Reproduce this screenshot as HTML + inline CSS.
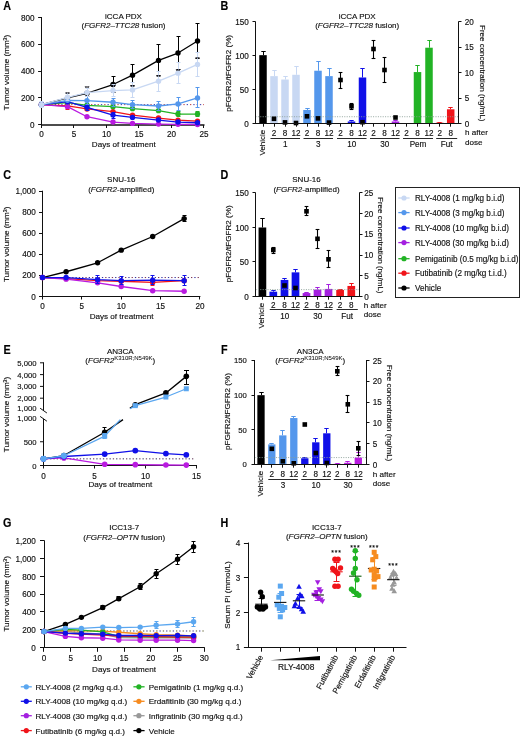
<!DOCTYPE html>
<html lang="en"><head><meta charset="utf-8"><title>Figure</title>
<style>
html,body{margin:0;padding:0;background:#fff;}
body{width:520px;height:736px;overflow:hidden;}
svg{display:block;}
svg text{font-family:"Liberation Sans",Arial,Helvetica,sans-serif;stroke:#111;stroke-width:0.15px;}
</style></head><body>
<svg width="520" height="736" viewBox="0 0 520 736">
<rect x="0" y="0" width="520" height="736" fill="#ffffff"/>
<text transform="translate(3.30,9.80) scale(0.9,1)" font-size="12.0" font-weight="bold" fill="#000">A</text>
<text x="123.50" y="18.90" font-size="8.0" text-anchor="middle" fill="#111" >iCCA PDX</text>
<text x="123.50" y="27.70" font-size="8.0" text-anchor="middle" fill="#111" >(<tspan font-style="italic">FGFR2–TTC28</tspan> fusion)</text>
<line x1="41.50" y1="17.00" x2="41.50" y2="125.50" stroke="#111" stroke-width="1" />
<line x1="38.10" y1="124.50" x2="41.50" y2="124.50" stroke="#111" stroke-width="1" />
<text x="34.60" y="127.75" font-size="8.15" text-anchor="end" fill="#111" >0</text>
<line x1="38.10" y1="97.50" x2="41.50" y2="97.50" stroke="#111" stroke-width="1" />
<text x="34.60" y="100.94" font-size="8.15" text-anchor="end" fill="#111" >200</text>
<line x1="38.10" y1="71.50" x2="41.50" y2="71.50" stroke="#111" stroke-width="1" />
<text x="34.60" y="74.13" font-size="8.15" text-anchor="end" fill="#111" >400</text>
<line x1="38.10" y1="44.50" x2="41.50" y2="44.50" stroke="#111" stroke-width="1" />
<text x="34.60" y="47.31" font-size="8.15" text-anchor="end" fill="#111" >600</text>
<line x1="38.10" y1="17.50" x2="41.50" y2="17.50" stroke="#111" stroke-width="1" />
<text x="34.60" y="20.50" font-size="8.15" text-anchor="end" fill="#111" >800</text>
<line x1="41.00" y1="125.00" x2="204.50" y2="125.00" stroke="#111" stroke-width="1.6" />
<line x1="41.50" y1="125.00" x2="41.50" y2="128.00" stroke="#111" stroke-width="1" />
<text x="41.50" y="137.10" font-size="8.15" text-anchor="middle" fill="#111" >0</text>
<line x1="73.50" y1="125.00" x2="73.50" y2="128.00" stroke="#111" stroke-width="1" />
<text x="74.00" y="137.10" font-size="8.15" text-anchor="middle" fill="#111" >5</text>
<line x1="106.50" y1="125.00" x2="106.50" y2="128.00" stroke="#111" stroke-width="1" />
<text x="106.50" y="137.10" font-size="8.15" text-anchor="middle" fill="#111" >10</text>
<line x1="138.50" y1="125.00" x2="138.50" y2="128.00" stroke="#111" stroke-width="1" />
<text x="139.00" y="137.10" font-size="8.15" text-anchor="middle" fill="#111" >15</text>
<line x1="171.50" y1="125.00" x2="171.50" y2="128.00" stroke="#111" stroke-width="1" />
<text x="171.50" y="137.10" font-size="8.15" text-anchor="middle" fill="#111" >20</text>
<line x1="203.50" y1="125.00" x2="203.50" y2="128.00" stroke="#111" stroke-width="1" />
<text x="204.00" y="137.10" font-size="8.15" text-anchor="middle" fill="#111" >25</text>
<line x1="41.50" y1="104.64" x2="204.00" y2="104.64" stroke="#3a3ab0" stroke-width="1" stroke-dasharray="1.3 5.3"/>
<line x1="41.50" y1="104.64" x2="204.00" y2="104.64" stroke="#c03a3a" stroke-width="1" stroke-dasharray="1.3 5.3" stroke-dashoffset="-3.3"/>
<line x1="113.50" y1="92.50" x2="113.50" y2="76.50" stroke="#000000" stroke-width="1" />
<line x1="111.50" y1="92.50" x2="115.50" y2="92.50" stroke="#000000" stroke-width="1" />
<line x1="111.50" y1="76.50" x2="115.50" y2="76.50" stroke="#000000" stroke-width="1" />
<line x1="132.50" y1="85.50" x2="132.50" y2="64.50" stroke="#000000" stroke-width="1" />
<line x1="130.50" y1="85.50" x2="134.50" y2="85.50" stroke="#000000" stroke-width="1" />
<line x1="130.50" y1="64.50" x2="134.50" y2="64.50" stroke="#000000" stroke-width="1" />
<line x1="158.50" y1="75.50" x2="158.50" y2="44.50" stroke="#000000" stroke-width="1" />
<line x1="156.50" y1="75.50" x2="160.50" y2="75.50" stroke="#000000" stroke-width="1" />
<line x1="156.50" y1="44.50" x2="160.50" y2="44.50" stroke="#000000" stroke-width="1" />
<line x1="178.50" y1="69.50" x2="178.50" y2="36.50" stroke="#000000" stroke-width="1" />
<line x1="176.50" y1="69.50" x2="180.50" y2="69.50" stroke="#000000" stroke-width="1" />
<line x1="176.50" y1="36.50" x2="180.50" y2="36.50" stroke="#000000" stroke-width="1" />
<line x1="197.50" y1="58.50" x2="197.50" y2="23.50" stroke="#000000" stroke-width="1" />
<line x1="195.50" y1="58.50" x2="199.50" y2="58.50" stroke="#000000" stroke-width="1" />
<line x1="195.50" y1="23.50" x2="199.50" y2="23.50" stroke="#000000" stroke-width="1" />
<polyline fill="none" stroke="#000000" stroke-width="1.3" stroke-linejoin="round"  points="41.50,104.64 67.50,97.94 87.00,93.25 113.00,84.53 132.50,75.15 158.50,60.40 178.00,53.03 197.50,40.96"/>
<circle cx="41.50" cy="104.64" r="2.7" fill="#000000"/>
<circle cx="67.50" cy="97.94" r="2.7" fill="#000000"/>
<circle cx="87.00" cy="93.25" r="2.7" fill="#000000"/>
<circle cx="113.00" cy="84.53" r="2.7" fill="#000000"/>
<circle cx="132.50" cy="75.15" r="2.7" fill="#000000"/>
<circle cx="158.50" cy="60.40" r="2.7" fill="#000000"/>
<circle cx="178.00" cy="53.03" r="2.7" fill="#000000"/>
<circle cx="197.50" cy="40.96" r="2.7" fill="#000000"/>
<line x1="67.50" y1="109.50" x2="67.50" y2="102.50" stroke="#f0141a" stroke-width="1" />
<line x1="65.50" y1="109.50" x2="69.50" y2="109.50" stroke="#f0141a" stroke-width="1" />
<line x1="65.50" y1="102.50" x2="69.50" y2="102.50" stroke="#f0141a" stroke-width="1" />
<polyline fill="none" stroke="#f0141a" stroke-width="1.3" stroke-linejoin="round"  points="41.50,104.64 67.50,105.98 87.00,108.93 113.00,111.61 132.50,115.10 158.50,118.05 178.00,120.19 197.50,121.13"/>
<circle cx="41.50" cy="104.64" r="2.7" fill="#f0141a"/>
<circle cx="67.50" cy="105.98" r="2.7" fill="#f0141a"/>
<circle cx="87.00" cy="108.93" r="2.7" fill="#f0141a"/>
<circle cx="113.00" cy="111.61" r="2.7" fill="#f0141a"/>
<circle cx="132.50" cy="115.10" r="2.7" fill="#f0141a"/>
<circle cx="158.50" cy="118.05" r="2.7" fill="#f0141a"/>
<circle cx="178.00" cy="120.19" r="2.7" fill="#f0141a"/>
<circle cx="197.50" cy="121.13" r="2.7" fill="#f0141a"/>
<line x1="178.50" y1="116.50" x2="178.50" y2="111.50" stroke="#22b325" stroke-width="1" />
<line x1="176.50" y1="116.50" x2="180.50" y2="116.50" stroke="#22b325" stroke-width="1" />
<line x1="176.50" y1="111.50" x2="180.50" y2="111.50" stroke="#22b325" stroke-width="1" />
<line x1="197.50" y1="116.50" x2="197.50" y2="111.50" stroke="#22b325" stroke-width="1" />
<line x1="195.50" y1="116.50" x2="199.50" y2="116.50" stroke="#22b325" stroke-width="1" />
<line x1="195.50" y1="111.50" x2="199.50" y2="111.50" stroke="#22b325" stroke-width="1" />
<polyline fill="none" stroke="#22b325" stroke-width="1.3" stroke-linejoin="round"  points="41.50,104.64 67.50,102.63 87.00,105.31 113.00,106.65 132.50,108.66 158.50,110.67 178.00,114.03 197.50,114.03"/>
<circle cx="41.50" cy="104.64" r="2.7" fill="#22b325"/>
<circle cx="67.50" cy="102.63" r="2.7" fill="#22b325"/>
<circle cx="87.00" cy="105.31" r="2.7" fill="#22b325"/>
<circle cx="113.00" cy="106.65" r="2.7" fill="#22b325"/>
<circle cx="132.50" cy="108.66" r="2.7" fill="#22b325"/>
<circle cx="158.50" cy="110.67" r="2.7" fill="#22b325"/>
<circle cx="178.00" cy="114.03" r="2.7" fill="#22b325"/>
<circle cx="197.50" cy="114.03" r="2.7" fill="#22b325"/>
<polyline fill="none" stroke="#b91ae0" stroke-width="1.3" stroke-linejoin="round"  points="41.50,104.64 67.50,106.65 87.00,116.71 113.00,122.07 132.50,123.41 158.50,124.08 178.00,124.35 197.50,124.48"/>
<circle cx="41.50" cy="104.64" r="2.7" fill="#b91ae0"/>
<circle cx="67.50" cy="106.65" r="2.7" fill="#b91ae0"/>
<circle cx="87.00" cy="116.71" r="2.7" fill="#b91ae0"/>
<circle cx="113.00" cy="122.07" r="2.7" fill="#b91ae0"/>
<circle cx="132.50" cy="123.41" r="2.7" fill="#b91ae0"/>
<circle cx="158.50" cy="124.08" r="2.7" fill="#b91ae0"/>
<circle cx="178.00" cy="124.35" r="2.7" fill="#b91ae0"/>
<circle cx="197.50" cy="124.48" r="2.7" fill="#b91ae0"/>
<line x1="87.50" y1="110.50" x2="87.50" y2="104.50" stroke="#1010e8" stroke-width="1" />
<line x1="85.50" y1="110.50" x2="89.50" y2="110.50" stroke="#1010e8" stroke-width="1" />
<line x1="85.50" y1="104.50" x2="89.50" y2="104.50" stroke="#1010e8" stroke-width="1" />
<line x1="113.50" y1="118.50" x2="113.50" y2="112.50" stroke="#1010e8" stroke-width="1" />
<line x1="111.50" y1="118.50" x2="115.50" y2="118.50" stroke="#1010e8" stroke-width="1" />
<line x1="111.50" y1="112.50" x2="115.50" y2="112.50" stroke="#1010e8" stroke-width="1" />
<polyline fill="none" stroke="#1010e8" stroke-width="1.3" stroke-linejoin="round"  points="41.50,104.64 67.50,101.69 87.00,107.32 113.00,115.10 132.50,117.38 158.50,120.06 178.00,122.07 197.50,122.74"/>
<circle cx="41.50" cy="104.64" r="2.7" fill="#1010e8"/>
<circle cx="67.50" cy="101.69" r="2.7" fill="#1010e8"/>
<circle cx="87.00" cy="107.32" r="2.7" fill="#1010e8"/>
<circle cx="113.00" cy="115.10" r="2.7" fill="#1010e8"/>
<circle cx="132.50" cy="117.38" r="2.7" fill="#1010e8"/>
<circle cx="158.50" cy="120.06" r="2.7" fill="#1010e8"/>
<circle cx="178.00" cy="122.07" r="2.7" fill="#1010e8"/>
<circle cx="197.50" cy="122.74" r="2.7" fill="#1010e8"/>
<line x1="87.50" y1="104.50" x2="87.50" y2="96.50" stroke="#5497ec" stroke-width="1" />
<line x1="85.50" y1="104.50" x2="89.50" y2="104.50" stroke="#5497ec" stroke-width="1" />
<line x1="85.50" y1="96.50" x2="89.50" y2="96.50" stroke="#5497ec" stroke-width="1" />
<line x1="113.50" y1="106.50" x2="113.50" y2="98.50" stroke="#5497ec" stroke-width="1" />
<line x1="111.50" y1="106.50" x2="115.50" y2="106.50" stroke="#5497ec" stroke-width="1" />
<line x1="111.50" y1="98.50" x2="115.50" y2="98.50" stroke="#5497ec" stroke-width="1" />
<line x1="132.50" y1="108.50" x2="132.50" y2="100.50" stroke="#5497ec" stroke-width="1" />
<line x1="130.50" y1="108.50" x2="134.50" y2="108.50" stroke="#5497ec" stroke-width="1" />
<line x1="130.50" y1="100.50" x2="134.50" y2="100.50" stroke="#5497ec" stroke-width="1" />
<line x1="158.50" y1="110.50" x2="158.50" y2="101.50" stroke="#5497ec" stroke-width="1" />
<line x1="156.50" y1="110.50" x2="160.50" y2="110.50" stroke="#5497ec" stroke-width="1" />
<line x1="156.50" y1="101.50" x2="160.50" y2="101.50" stroke="#5497ec" stroke-width="1" />
<line x1="178.50" y1="110.50" x2="178.50" y2="97.50" stroke="#5497ec" stroke-width="1" />
<line x1="176.50" y1="110.50" x2="180.50" y2="110.50" stroke="#5497ec" stroke-width="1" />
<line x1="176.50" y1="97.50" x2="180.50" y2="97.50" stroke="#5497ec" stroke-width="1" />
<line x1="197.50" y1="107.50" x2="197.50" y2="87.50" stroke="#5497ec" stroke-width="1" />
<line x1="195.50" y1="107.50" x2="199.50" y2="107.50" stroke="#5497ec" stroke-width="1" />
<line x1="195.50" y1="87.50" x2="199.50" y2="87.50" stroke="#5497ec" stroke-width="1" />
<polyline fill="none" stroke="#5497ec" stroke-width="1.3" stroke-linejoin="round"  points="41.50,104.64 67.50,100.35 87.00,100.62 113.00,102.23 132.50,104.64 158.50,105.98 178.00,103.97 197.50,97.94"/>
<circle cx="41.50" cy="104.64" r="2.7" fill="#5497ec"/>
<circle cx="67.50" cy="100.35" r="2.7" fill="#5497ec"/>
<circle cx="87.00" cy="100.62" r="2.7" fill="#5497ec"/>
<circle cx="113.00" cy="102.23" r="2.7" fill="#5497ec"/>
<circle cx="132.50" cy="104.64" r="2.7" fill="#5497ec"/>
<circle cx="158.50" cy="105.98" r="2.7" fill="#5497ec"/>
<circle cx="178.00" cy="103.97" r="2.7" fill="#5497ec"/>
<circle cx="197.50" cy="97.94" r="2.7" fill="#5497ec"/>
<line x1="41.50" y1="107.50" x2="41.50" y2="101.50" stroke="#c8d8f3" stroke-width="1" />
<line x1="39.50" y1="107.50" x2="43.50" y2="107.50" stroke="#c8d8f3" stroke-width="1" />
<line x1="39.50" y1="101.50" x2="43.50" y2="101.50" stroke="#c8d8f3" stroke-width="1" />
<line x1="67.50" y1="100.50" x2="67.50" y2="93.50" stroke="#c8d8f3" stroke-width="1" />
<line x1="65.50" y1="100.50" x2="69.50" y2="100.50" stroke="#c8d8f3" stroke-width="1" />
<line x1="65.50" y1="93.50" x2="69.50" y2="93.50" stroke="#c8d8f3" stroke-width="1" />
<line x1="87.50" y1="96.50" x2="87.50" y2="88.50" stroke="#c8d8f3" stroke-width="1" />
<line x1="85.50" y1="96.50" x2="89.50" y2="96.50" stroke="#c8d8f3" stroke-width="1" />
<line x1="85.50" y1="88.50" x2="89.50" y2="88.50" stroke="#c8d8f3" stroke-width="1" />
<line x1="113.50" y1="96.50" x2="113.50" y2="84.50" stroke="#c8d8f3" stroke-width="1" />
<line x1="111.50" y1="96.50" x2="115.50" y2="96.50" stroke="#c8d8f3" stroke-width="1" />
<line x1="111.50" y1="84.50" x2="115.50" y2="84.50" stroke="#c8d8f3" stroke-width="1" />
<line x1="132.50" y1="97.50" x2="132.50" y2="82.50" stroke="#c8d8f3" stroke-width="1" />
<line x1="130.50" y1="97.50" x2="134.50" y2="97.50" stroke="#c8d8f3" stroke-width="1" />
<line x1="130.50" y1="82.50" x2="134.50" y2="82.50" stroke="#c8d8f3" stroke-width="1" />
<line x1="158.50" y1="91.50" x2="158.50" y2="71.50" stroke="#c8d8f3" stroke-width="1" />
<line x1="156.50" y1="91.50" x2="160.50" y2="91.50" stroke="#c8d8f3" stroke-width="1" />
<line x1="156.50" y1="71.50" x2="160.50" y2="71.50" stroke="#c8d8f3" stroke-width="1" />
<line x1="178.50" y1="83.50" x2="178.50" y2="62.50" stroke="#c8d8f3" stroke-width="1" />
<line x1="176.50" y1="83.50" x2="180.50" y2="83.50" stroke="#c8d8f3" stroke-width="1" />
<line x1="176.50" y1="62.50" x2="180.50" y2="62.50" stroke="#c8d8f3" stroke-width="1" />
<line x1="197.50" y1="76.50" x2="197.50" y2="52.50" stroke="#c8d8f3" stroke-width="1" />
<line x1="195.50" y1="76.50" x2="199.50" y2="76.50" stroke="#c8d8f3" stroke-width="1" />
<line x1="195.50" y1="52.50" x2="199.50" y2="52.50" stroke="#c8d8f3" stroke-width="1" />
<polyline fill="none" stroke="#c8d8f3" stroke-width="1.3" stroke-linejoin="round"  points="41.50,104.64 67.50,97.27 87.00,92.58 113.00,90.56 132.50,89.89 158.50,81.18 178.00,73.14 197.50,64.42"/>
<circle cx="41.50" cy="104.64" r="2.7" fill="#c8d8f3"/>
<circle cx="67.50" cy="97.27" r="2.7" fill="#c8d8f3"/>
<circle cx="87.00" cy="92.58" r="2.7" fill="#c8d8f3"/>
<circle cx="113.00" cy="90.56" r="2.7" fill="#c8d8f3"/>
<circle cx="132.50" cy="89.89" r="2.7" fill="#c8d8f3"/>
<circle cx="158.50" cy="81.18" r="2.7" fill="#c8d8f3"/>
<circle cx="178.00" cy="73.14" r="2.7" fill="#c8d8f3"/>
<circle cx="197.50" cy="64.42" r="2.7" fill="#c8d8f3"/>
<text x="67.50" y="96.40" font-size="6" text-anchor="middle" fill="#223" letter-spacing="-0.2">**</text>
<text x="87.00" y="90.40" font-size="6" text-anchor="middle" fill="#223" letter-spacing="-0.2">**</text>
<text x="113.00" y="89.40" font-size="6" text-anchor="middle" fill="#223" letter-spacing="-0.2">**</text>
<text x="132.50" y="88.80" font-size="6" text-anchor="middle" fill="#223" letter-spacing="-0.2">**</text>
<text x="158.50" y="78.90" font-size="6" text-anchor="middle" fill="#223" letter-spacing="-0.2">**</text>
<text x="178.00" y="72.80" font-size="6" text-anchor="middle" fill="#223" letter-spacing="-0.2">**</text>
<text x="197.50" y="61.10" font-size="6" text-anchor="middle" fill="#223" letter-spacing="-0.2">**</text>
<text x="123.80" y="147.30" font-size="8.1" text-anchor="middle" fill="#111" >Days of treatment</text>
<text transform="translate(9.10,72.50) rotate(-90)" font-size="8.1" text-anchor="middle" fill="#111">Tumor volume (mm<tspan font-size="5.2" dy="-2.6">3</tspan><tspan dy="2.6">)</tspan></text>
<text transform="translate(220.60,9.80) scale(0.9,1)" font-size="12.0" font-weight="bold" fill="#000">B</text>
<text x="357.20" y="18.90" font-size="8.0" text-anchor="middle" fill="#111" >iCCA PDX</text>
<text x="357.20" y="27.70" font-size="8.0" text-anchor="middle" fill="#111" >(<tspan font-style="italic">FGFR2–TTC28</tspan> fusion)</text>
<line x1="263.50" y1="55.16" x2="263.50" y2="51.50" stroke="#000000" stroke-width="1" />
<line x1="261.30" y1="51.50" x2="265.70" y2="51.50" stroke="#000000" stroke-width="1" />
<rect x="259.25" y="55.16" width="7.5" height="68.34" fill="#000000"/>
<line x1="274.50" y1="76.13" x2="274.50" y2="70.50" stroke="#c8d8f3" stroke-width="1" />
<line x1="272.30" y1="70.50" x2="276.70" y2="70.50" stroke="#c8d8f3" stroke-width="1" />
<rect x="270.25" y="76.13" width="7.5" height="47.37" fill="#c8d8f3"/>
<line x1="285.50" y1="79.52" x2="285.50" y2="76.50" stroke="#c8d8f3" stroke-width="1" />
<line x1="283.30" y1="76.50" x2="287.70" y2="76.50" stroke="#c8d8f3" stroke-width="1" />
<rect x="281.25" y="79.52" width="7.5" height="43.98" fill="#c8d8f3"/>
<line x1="296.50" y1="74.78" x2="296.50" y2="66.50" stroke="#c8d8f3" stroke-width="1" />
<line x1="294.30" y1="66.50" x2="298.70" y2="66.50" stroke="#c8d8f3" stroke-width="1" />
<rect x="292.25" y="74.78" width="7.5" height="48.72" fill="#c8d8f3"/>
<line x1="307.50" y1="109.97" x2="307.50" y2="108.50" stroke="#5497ec" stroke-width="1" />
<line x1="305.30" y1="108.50" x2="309.70" y2="108.50" stroke="#5497ec" stroke-width="1" />
<rect x="303.25" y="109.97" width="7.5" height="13.53" fill="#5497ec"/>
<line x1="318.50" y1="70.72" x2="318.50" y2="61.50" stroke="#5497ec" stroke-width="1" />
<line x1="316.30" y1="61.50" x2="320.70" y2="61.50" stroke="#5497ec" stroke-width="1" />
<rect x="314.25" y="70.72" width="7.5" height="52.78" fill="#5497ec"/>
<line x1="329.50" y1="76.13" x2="329.50" y2="68.50" stroke="#5497ec" stroke-width="1" />
<line x1="327.30" y1="68.50" x2="331.70" y2="68.50" stroke="#5497ec" stroke-width="1" />
<rect x="325.25" y="76.13" width="7.5" height="47.37" fill="#5497ec"/>
<rect x="336.75" y="123.09" width="7.5" height="0.41" fill="#1010e8"/>
<line x1="351.50" y1="121.47" x2="351.50" y2="120.50" stroke="#1010e8" stroke-width="1" />
<line x1="349.30" y1="120.50" x2="353.70" y2="120.50" stroke="#1010e8" stroke-width="1" />
<rect x="347.75" y="121.47" width="7.5" height="2.03" fill="#1010e8"/>
<line x1="362.50" y1="77.49" x2="362.50" y2="68.50" stroke="#1010e8" stroke-width="1" />
<line x1="360.30" y1="68.50" x2="364.70" y2="68.50" stroke="#1010e8" stroke-width="1" />
<rect x="358.75" y="77.49" width="7.5" height="46.01" fill="#1010e8"/>
<rect x="369.75" y="123.30" width="7.5" height="0.20" fill="#a41fe0"/>
<rect x="380.75" y="122.96" width="7.5" height="0.54" fill="#a41fe0"/>
<line x1="395.50" y1="121.47" x2="395.50" y2="120.50" stroke="#a41fe0" stroke-width="1" />
<line x1="393.30" y1="120.50" x2="397.70" y2="120.50" stroke="#a41fe0" stroke-width="1" />
<rect x="391.75" y="121.47" width="7.5" height="2.03" fill="#a41fe0"/>
<rect x="402.75" y="123.23" width="7.5" height="0.27" fill="#22b325"/>
<line x1="417.50" y1="72.07" x2="417.50" y2="65.50" stroke="#22b325" stroke-width="1" />
<line x1="415.30" y1="65.50" x2="419.70" y2="65.50" stroke="#22b325" stroke-width="1" />
<rect x="413.75" y="72.07" width="7.5" height="51.43" fill="#22b325"/>
<line x1="429.50" y1="47.71" x2="429.50" y2="40.50" stroke="#22b325" stroke-width="1" />
<line x1="427.30" y1="40.50" x2="431.70" y2="40.50" stroke="#22b325" stroke-width="1" />
<rect x="425.25" y="47.71" width="7.5" height="75.79" fill="#22b325"/>
<line x1="439.50" y1="122.69" x2="439.50" y2="122.50" stroke="#f0141a" stroke-width="1" />
<line x1="437.30" y1="122.50" x2="441.70" y2="122.50" stroke="#f0141a" stroke-width="1" />
<rect x="435.95" y="122.69" width="7.5" height="0.81" fill="#f0141a"/>
<line x1="450.50" y1="109.29" x2="450.50" y2="107.50" stroke="#f0141a" stroke-width="1" />
<line x1="448.30" y1="107.50" x2="452.70" y2="107.50" stroke="#f0141a" stroke-width="1" />
<rect x="446.95" y="109.29" width="7.5" height="14.21" fill="#f0141a"/>
<line x1="255.50" y1="116.73" x2="458.50" y2="116.73" stroke="#8a9e96" stroke-width="0.9" stroke-dasharray="1 1.4"/>
<rect x="271.70" y="116.50" width="4.6" height="4.6" fill="#000000"/>
<rect x="282.70" y="120.10" width="4.6" height="4.6" fill="#000000"/>
<rect x="293.70" y="120.70" width="4.6" height="4.6" fill="#000000"/>
<rect x="304.70" y="114.00" width="4.6" height="4.6" fill="#000000"/>
<rect x="315.70" y="116.10" width="4.6" height="4.6" fill="#000000"/>
<rect x="326.70" y="120.30" width="4.6" height="4.6" fill="#000000"/>
<line x1="340.50" y1="72.50" x2="340.50" y2="88.50" stroke="#000000" stroke-width="1.1" />
<line x1="338.60" y1="72.50" x2="342.40" y2="72.50" stroke="#000000" stroke-width="1.1" />
<line x1="338.60" y1="88.50" x2="342.40" y2="88.50" stroke="#000000" stroke-width="1.1" />
<rect x="338.20" y="77.70" width="4.6" height="4.6" fill="#000000"/>
<line x1="351.50" y1="103.50" x2="351.50" y2="109.50" stroke="#000000" stroke-width="1.1" />
<line x1="349.60" y1="103.50" x2="353.40" y2="103.50" stroke="#000000" stroke-width="1.1" />
<line x1="349.60" y1="109.50" x2="353.40" y2="109.50" stroke="#000000" stroke-width="1.1" />
<rect x="349.20" y="104.00" width="4.6" height="4.6" fill="#000000"/>
<rect x="360.20" y="119.90" width="4.6" height="4.6" fill="#000000"/>
<line x1="373.50" y1="40.50" x2="373.50" y2="58.50" stroke="#000000" stroke-width="1.1" />
<line x1="371.60" y1="40.50" x2="375.40" y2="40.50" stroke="#000000" stroke-width="1.1" />
<line x1="371.60" y1="58.50" x2="375.40" y2="58.50" stroke="#000000" stroke-width="1.1" />
<rect x="371.20" y="46.70" width="4.6" height="4.6" fill="#000000"/>
<line x1="384.50" y1="57.50" x2="384.50" y2="82.50" stroke="#000000" stroke-width="1.1" />
<line x1="382.60" y1="57.50" x2="386.40" y2="57.50" stroke="#000000" stroke-width="1.1" />
<line x1="382.60" y1="82.50" x2="386.40" y2="82.50" stroke="#000000" stroke-width="1.1" />
<rect x="382.20" y="67.70" width="4.6" height="4.6" fill="#000000"/>
<rect x="393.20" y="115.20" width="4.6" height="4.6" fill="#000000"/>
<line x1="255.50" y1="21.50" x2="255.50" y2="124.00" stroke="#111" stroke-width="1" />
<line x1="252.50" y1="123.50" x2="255.50" y2="123.50" stroke="#111" stroke-width="1" />
<text x="248.90" y="126.50" font-size="8.15" text-anchor="end" fill="#111" >0</text>
<line x1="252.50" y1="89.50" x2="255.50" y2="89.50" stroke="#111" stroke-width="1" />
<text x="248.90" y="92.67" font-size="8.15" text-anchor="end" fill="#111" >50</text>
<line x1="252.50" y1="55.50" x2="255.50" y2="55.50" stroke="#111" stroke-width="1" />
<text x="248.90" y="58.83" font-size="8.15" text-anchor="end" fill="#111" >100</text>
<line x1="252.50" y1="21.50" x2="255.50" y2="21.50" stroke="#111" stroke-width="1" />
<text x="248.90" y="25.00" font-size="8.15" text-anchor="end" fill="#111" >150</text>
<line x1="255.00" y1="123.50" x2="459.00" y2="123.50" stroke="#111" stroke-width="1" />
<line x1="458.50" y1="21.50" x2="458.50" y2="124.00" stroke="#111" stroke-width="1" />
<line x1="458.50" y1="123.50" x2="461.50" y2="123.50" stroke="#111" stroke-width="1" />
<text x="464.70" y="126.50" font-size="8.15" text-anchor="start" fill="#111" >0</text>
<line x1="458.50" y1="98.50" x2="461.50" y2="98.50" stroke="#111" stroke-width="1" />
<text x="464.70" y="101.12" font-size="8.15" text-anchor="start" fill="#111" >5</text>
<line x1="458.50" y1="72.50" x2="461.50" y2="72.50" stroke="#111" stroke-width="1" />
<text x="464.70" y="75.75" font-size="8.15" text-anchor="start" fill="#111" >10</text>
<line x1="458.50" y1="47.50" x2="461.50" y2="47.50" stroke="#111" stroke-width="1" />
<text x="464.70" y="50.38" font-size="8.15" text-anchor="start" fill="#111" >15</text>
<line x1="458.50" y1="21.50" x2="461.50" y2="21.50" stroke="#111" stroke-width="1" />
<text x="464.70" y="25.00" font-size="8.15" text-anchor="start" fill="#111" >20</text>
<text transform="translate(231.40,73.40) rotate(-90)" font-size="8.1" text-anchor="middle" fill="#111">pFGFR2/tFGFR2 (%)</text>
<text transform="translate(480.00,73.25) rotate(90)" font-size="8.0" text-anchor="middle" fill="#111">Free concentration (ng/mL)</text>
<text transform="translate(265.00,129.70) rotate(-90)" font-size="8.0" text-anchor="end" fill="#111">Vehicle</text>
<line x1="263.50" y1="123.50" x2="263.50" y2="126.70" stroke="#111" stroke-width="1" />
<text x="274.00" y="135.50" font-size="8.15" text-anchor="middle" fill="#111" >2</text>
<line x1="274.50" y1="123.50" x2="274.50" y2="126.70" stroke="#111" stroke-width="1" />
<text x="285.00" y="135.50" font-size="8.15" text-anchor="middle" fill="#111" >8</text>
<line x1="285.50" y1="123.50" x2="285.50" y2="126.70" stroke="#111" stroke-width="1" />
<text x="296.00" y="135.50" font-size="8.15" text-anchor="middle" fill="#111" >12</text>
<line x1="296.50" y1="123.50" x2="296.50" y2="126.70" stroke="#111" stroke-width="1" />
<line x1="270.50" y1="138.50" x2="300.00" y2="138.50" stroke="#111" stroke-width="0.9" />
<text x="285.25" y="147.00" font-size="8.15" text-anchor="middle" fill="#111" >1</text>
<text x="307.00" y="135.50" font-size="8.15" text-anchor="middle" fill="#111" >2</text>
<line x1="307.50" y1="123.50" x2="307.50" y2="126.70" stroke="#111" stroke-width="1" />
<text x="318.00" y="135.50" font-size="8.15" text-anchor="middle" fill="#111" >8</text>
<line x1="318.50" y1="123.50" x2="318.50" y2="126.70" stroke="#111" stroke-width="1" />
<text x="329.00" y="135.50" font-size="8.15" text-anchor="middle" fill="#111" >12</text>
<line x1="329.50" y1="123.50" x2="329.50" y2="126.70" stroke="#111" stroke-width="1" />
<line x1="303.50" y1="138.50" x2="333.00" y2="138.50" stroke="#111" stroke-width="0.9" />
<text x="318.25" y="147.00" font-size="8.15" text-anchor="middle" fill="#111" >3</text>
<text x="340.50" y="135.50" font-size="8.15" text-anchor="middle" fill="#111" >2</text>
<line x1="340.50" y1="123.50" x2="340.50" y2="126.70" stroke="#111" stroke-width="1" />
<text x="351.50" y="135.50" font-size="8.15" text-anchor="middle" fill="#111" >8</text>
<line x1="351.50" y1="123.50" x2="351.50" y2="126.70" stroke="#111" stroke-width="1" />
<text x="362.50" y="135.50" font-size="8.15" text-anchor="middle" fill="#111" >12</text>
<line x1="362.50" y1="123.50" x2="362.50" y2="126.70" stroke="#111" stroke-width="1" />
<line x1="337.00" y1="138.50" x2="366.50" y2="138.50" stroke="#111" stroke-width="0.9" />
<text x="351.75" y="147.00" font-size="8.15" text-anchor="middle" fill="#111" >10</text>
<text x="373.50" y="135.50" font-size="8.15" text-anchor="middle" fill="#111" >2</text>
<line x1="373.50" y1="123.50" x2="373.50" y2="126.70" stroke="#111" stroke-width="1" />
<text x="384.50" y="135.50" font-size="8.15" text-anchor="middle" fill="#111" >8</text>
<line x1="384.50" y1="123.50" x2="384.50" y2="126.70" stroke="#111" stroke-width="1" />
<text x="395.50" y="135.50" font-size="8.15" text-anchor="middle" fill="#111" >12</text>
<line x1="395.50" y1="123.50" x2="395.50" y2="126.70" stroke="#111" stroke-width="1" />
<line x1="370.00" y1="138.50" x2="399.50" y2="138.50" stroke="#111" stroke-width="0.9" />
<text x="384.75" y="147.00" font-size="8.15" text-anchor="middle" fill="#111" >30</text>
<text x="406.50" y="135.50" font-size="8.15" text-anchor="middle" fill="#111" >2</text>
<line x1="406.50" y1="123.50" x2="406.50" y2="126.70" stroke="#111" stroke-width="1" />
<text x="417.50" y="135.50" font-size="8.15" text-anchor="middle" fill="#111" >8</text>
<line x1="417.50" y1="123.50" x2="417.50" y2="126.70" stroke="#111" stroke-width="1" />
<text x="429.00" y="135.50" font-size="8.15" text-anchor="middle" fill="#111" >12</text>
<line x1="429.50" y1="123.50" x2="429.50" y2="126.70" stroke="#111" stroke-width="1" />
<line x1="403.00" y1="138.50" x2="433.00" y2="138.50" stroke="#111" stroke-width="0.9" />
<text x="418.00" y="147.00" font-size="8.15" text-anchor="middle" fill="#111" >Pem</text>
<text x="439.70" y="135.50" font-size="8.15" text-anchor="middle" fill="#111" >2</text>
<line x1="439.50" y1="123.50" x2="439.50" y2="126.70" stroke="#111" stroke-width="1" />
<text x="450.70" y="135.50" font-size="8.15" text-anchor="middle" fill="#111" >8</text>
<line x1="450.50" y1="123.50" x2="450.50" y2="126.70" stroke="#111" stroke-width="1" />
<line x1="436.20" y1="138.50" x2="457.20" y2="138.50" stroke="#111" stroke-width="0.9" />
<text x="446.70" y="147.00" font-size="8.15" text-anchor="middle" fill="#111" >Fut</text>
<text x="465.00" y="135.40" font-size="8.1" text-anchor="start" fill="#111" >h after</text>
<text x="465.00" y="144.80" font-size="8.1" text-anchor="start" fill="#111" >dose</text>
<text transform="translate(3.30,178.90) scale(0.9,1)" font-size="12.0" font-weight="bold" fill="#000">C</text>
<text x="121.30" y="182.40" font-size="8.0" text-anchor="middle" fill="#111" >SNU-16</text>
<text x="121.30" y="191.70" font-size="8.0" text-anchor="middle" fill="#111" >(<tspan font-style="italic">FGFR2</tspan>-amplified)</text>
<line x1="42.50" y1="190.70" x2="42.50" y2="297.00" stroke="#111" stroke-width="1" />
<line x1="39.00" y1="296.50" x2="42.50" y2="296.50" stroke="#111" stroke-width="1" />
<text x="35.80" y="299.50" font-size="8.15" text-anchor="end" fill="#111" >0</text>
<line x1="39.00" y1="275.50" x2="42.50" y2="275.50" stroke="#111" stroke-width="1" />
<text x="35.80" y="278.44" font-size="8.15" text-anchor="end" fill="#111" >200</text>
<line x1="39.00" y1="254.50" x2="42.50" y2="254.50" stroke="#111" stroke-width="1" />
<text x="35.80" y="257.38" font-size="8.15" text-anchor="end" fill="#111" >400</text>
<line x1="39.00" y1="233.50" x2="42.50" y2="233.50" stroke="#111" stroke-width="1" />
<text x="35.80" y="236.32" font-size="8.15" text-anchor="end" fill="#111" >600</text>
<line x1="39.00" y1="212.50" x2="42.50" y2="212.50" stroke="#111" stroke-width="1" />
<text x="35.80" y="215.26" font-size="8.15" text-anchor="end" fill="#111" >800</text>
<line x1="39.00" y1="191.50" x2="42.50" y2="191.50" stroke="#111" stroke-width="1" />
<text x="35.80" y="194.20" font-size="8.15" text-anchor="end" fill="#111" >1,000</text>
<line x1="42.00" y1="296.50" x2="200.40" y2="296.50" stroke="#111" stroke-width="1" />
<line x1="42.50" y1="296.50" x2="42.50" y2="299.50" stroke="#111" stroke-width="1" />
<text x="42.50" y="309.20" font-size="8.15" text-anchor="middle" fill="#111" >0</text>
<line x1="81.50" y1="296.50" x2="81.50" y2="299.50" stroke="#111" stroke-width="1" />
<text x="81.85" y="309.20" font-size="8.15" text-anchor="middle" fill="#111" >5</text>
<line x1="121.50" y1="296.50" x2="121.50" y2="299.50" stroke="#111" stroke-width="1" />
<text x="121.20" y="309.20" font-size="8.15" text-anchor="middle" fill="#111" >10</text>
<line x1="160.50" y1="296.50" x2="160.50" y2="299.50" stroke="#111" stroke-width="1" />
<text x="160.55" y="309.20" font-size="8.15" text-anchor="middle" fill="#111" >15</text>
<line x1="199.50" y1="296.50" x2="199.50" y2="299.50" stroke="#111" stroke-width="1" />
<text x="199.90" y="309.20" font-size="8.15" text-anchor="middle" fill="#111" >20</text>
<line x1="42.50" y1="277.55" x2="199.90" y2="277.55" stroke="#2a2aa0" stroke-width="1" stroke-dasharray="1.3 5.3"/>
<line x1="42.50" y1="277.55" x2="199.90" y2="277.55" stroke="#7a3050" stroke-width="1" stroke-dasharray="1.3 5.3" stroke-dashoffset="-3.3"/>
<line x1="184.50" y1="221.50" x2="184.50" y2="215.50" stroke="#000000" stroke-width="1" />
<line x1="182.50" y1="221.50" x2="186.50" y2="221.50" stroke="#000000" stroke-width="1" />
<line x1="182.50" y1="215.50" x2="186.50" y2="215.50" stroke="#000000" stroke-width="1" />
<polyline fill="none" stroke="#000000" stroke-width="1.3" stroke-linejoin="round"  points="42.50,277.55 66.11,271.75 97.59,262.80 121.20,250.17 152.68,236.48 184.16,218.58"/>
<circle cx="42.50" cy="277.55" r="2.7" fill="#000000"/>
<circle cx="66.11" cy="271.75" r="2.7" fill="#000000"/>
<circle cx="97.59" cy="262.80" r="2.7" fill="#000000"/>
<circle cx="121.20" cy="250.17" r="2.7" fill="#000000"/>
<circle cx="152.68" cy="236.48" r="2.7" fill="#000000"/>
<circle cx="184.16" cy="218.58" r="2.7" fill="#000000"/>
<line x1="152.50" y1="285.50" x2="152.50" y2="279.50" stroke="#f0141a" stroke-width="1" />
<line x1="150.50" y1="285.50" x2="154.50" y2="285.50" stroke="#f0141a" stroke-width="1" />
<line x1="150.50" y1="279.50" x2="154.50" y2="279.50" stroke="#f0141a" stroke-width="1" />
<polyline fill="none" stroke="#f0141a" stroke-width="1.3" stroke-linejoin="round"  points="42.50,277.55 66.11,278.60 97.59,280.70 121.20,281.23 152.68,282.28 184.16,280.70"/>
<circle cx="42.50" cy="277.55" r="2.7" fill="#f0141a"/>
<circle cx="66.11" cy="278.60" r="2.7" fill="#f0141a"/>
<circle cx="97.59" cy="280.70" r="2.7" fill="#f0141a"/>
<circle cx="121.20" cy="281.23" r="2.7" fill="#f0141a"/>
<circle cx="152.68" cy="282.28" r="2.7" fill="#f0141a"/>
<circle cx="184.16" cy="280.70" r="2.7" fill="#f0141a"/>
<polyline fill="none" stroke="#b91ae0" stroke-width="1.3" stroke-linejoin="round"  points="42.50,277.55 66.11,279.13 97.59,282.81 121.20,286.50 152.68,290.71 184.16,291.24"/>
<circle cx="42.50" cy="277.55" r="2.7" fill="#b91ae0"/>
<circle cx="66.11" cy="279.13" r="2.7" fill="#b91ae0"/>
<circle cx="97.59" cy="282.81" r="2.7" fill="#b91ae0"/>
<circle cx="121.20" cy="286.50" r="2.7" fill="#b91ae0"/>
<circle cx="152.68" cy="290.71" r="2.7" fill="#b91ae0"/>
<circle cx="184.16" cy="291.24" r="2.7" fill="#b91ae0"/>
<line x1="97.50" y1="283.50" x2="97.50" y2="275.50" stroke="#1010e8" stroke-width="1" />
<line x1="95.50" y1="283.50" x2="99.50" y2="283.50" stroke="#1010e8" stroke-width="1" />
<line x1="95.50" y1="275.50" x2="99.50" y2="275.50" stroke="#1010e8" stroke-width="1" />
<line x1="121.50" y1="284.50" x2="121.50" y2="276.50" stroke="#1010e8" stroke-width="1" />
<line x1="119.50" y1="284.50" x2="123.50" y2="284.50" stroke="#1010e8" stroke-width="1" />
<line x1="119.50" y1="276.50" x2="123.50" y2="276.50" stroke="#1010e8" stroke-width="1" />
<line x1="152.50" y1="284.50" x2="152.50" y2="275.50" stroke="#1010e8" stroke-width="1" />
<line x1="150.50" y1="284.50" x2="154.50" y2="284.50" stroke="#1010e8" stroke-width="1" />
<line x1="150.50" y1="275.50" x2="154.50" y2="275.50" stroke="#1010e8" stroke-width="1" />
<line x1="184.50" y1="285.50" x2="184.50" y2="275.50" stroke="#1010e8" stroke-width="1" />
<line x1="182.50" y1="285.50" x2="186.50" y2="285.50" stroke="#1010e8" stroke-width="1" />
<line x1="182.50" y1="275.50" x2="186.50" y2="275.50" stroke="#1010e8" stroke-width="1" />
<polyline fill="none" stroke="#1010e8" stroke-width="1.3" stroke-linejoin="round"  points="42.50,277.55 66.11,277.55 97.59,279.65 121.20,280.70 152.68,280.18 184.16,280.70"/>
<circle cx="42.50" cy="277.55" r="2.7" fill="#1010e8"/>
<circle cx="66.11" cy="277.55" r="2.7" fill="#1010e8"/>
<circle cx="97.59" cy="279.65" r="2.7" fill="#1010e8"/>
<circle cx="121.20" cy="280.70" r="2.7" fill="#1010e8"/>
<circle cx="152.68" cy="280.18" r="2.7" fill="#1010e8"/>
<circle cx="184.16" cy="280.70" r="2.7" fill="#1010e8"/>
<text x="121.60" y="319.20" font-size="8.1" text-anchor="middle" fill="#111" >Days of treatment</text>
<text transform="translate(9.30,244.30) rotate(-90)" font-size="8.1" text-anchor="middle" fill="#111">Tumor volume (mm<tspan font-size="5.2" dy="-2.6">3</tspan><tspan dy="2.6">)</tspan></text>
<text transform="translate(220.60,178.60) scale(0.9,1)" font-size="12.0" font-weight="bold" fill="#000">D</text>
<text x="306.50" y="182.40" font-size="8.0" text-anchor="middle" fill="#111" >SNU-16</text>
<text x="306.50" y="191.70" font-size="8.0" text-anchor="middle" fill="#111" >(<tspan font-style="italic">FGFR2</tspan>-amplified)</text>
<line x1="262.50" y1="227.50" x2="262.50" y2="218.50" stroke="#000000" stroke-width="1" />
<line x1="260.30" y1="218.50" x2="264.70" y2="218.50" stroke="#000000" stroke-width="1" />
<rect x="258.55" y="227.50" width="7.7" height="69.00" fill="#000000"/>
<line x1="273.50" y1="291.67" x2="273.50" y2="290.50" stroke="#1010e8" stroke-width="1" />
<line x1="271.30" y1="290.50" x2="275.70" y2="290.50" stroke="#1010e8" stroke-width="1" />
<rect x="269.45" y="291.67" width="7.7" height="4.83" fill="#1010e8"/>
<line x1="284.50" y1="279.94" x2="284.50" y2="278.50" stroke="#1010e8" stroke-width="1" />
<line x1="282.30" y1="278.50" x2="286.70" y2="278.50" stroke="#1010e8" stroke-width="1" />
<rect x="280.65" y="279.94" width="7.7" height="16.56" fill="#1010e8"/>
<line x1="295.50" y1="272.35" x2="295.50" y2="269.50" stroke="#1010e8" stroke-width="1" />
<line x1="293.30" y1="269.50" x2="297.70" y2="269.50" stroke="#1010e8" stroke-width="1" />
<rect x="291.65" y="272.35" width="7.7" height="24.15" fill="#1010e8"/>
<line x1="306.50" y1="293.05" x2="306.50" y2="292.50" stroke="#a41fe0" stroke-width="1" />
<line x1="304.30" y1="292.50" x2="308.70" y2="292.50" stroke="#a41fe0" stroke-width="1" />
<rect x="302.65" y="293.05" width="7.7" height="3.45" fill="#a41fe0"/>
<line x1="317.50" y1="289.60" x2="317.50" y2="287.50" stroke="#a41fe0" stroke-width="1" />
<line x1="315.30" y1="287.50" x2="319.70" y2="287.50" stroke="#a41fe0" stroke-width="1" />
<rect x="313.65" y="289.60" width="7.7" height="6.90" fill="#a41fe0"/>
<line x1="328.50" y1="288.91" x2="328.50" y2="284.50" stroke="#a41fe0" stroke-width="1" />
<line x1="326.30" y1="284.50" x2="330.70" y2="284.50" stroke="#a41fe0" stroke-width="1" />
<rect x="324.65" y="288.91" width="7.7" height="7.59" fill="#a41fe0"/>
<line x1="340.50" y1="289.94" x2="340.50" y2="289.50" stroke="#f0141a" stroke-width="1" />
<line x1="338.30" y1="289.50" x2="342.70" y2="289.50" stroke="#f0141a" stroke-width="1" />
<rect x="336.25" y="289.94" width="7.7" height="6.56" fill="#f0141a"/>
<line x1="351.50" y1="285.94" x2="351.50" y2="283.50" stroke="#f0141a" stroke-width="1" />
<line x1="349.30" y1="283.50" x2="353.70" y2="283.50" stroke="#f0141a" stroke-width="1" />
<rect x="347.45" y="285.94" width="7.7" height="10.56" fill="#f0141a"/>
<line x1="255.50" y1="289.60" x2="359.50" y2="289.60" stroke="#8a9e96" stroke-width="0.9" stroke-dasharray="1 1.4"/>
<line x1="273.50" y1="247.50" x2="273.50" y2="253.50" stroke="#000000" stroke-width="1.1" />
<line x1="271.60" y1="247.50" x2="275.40" y2="247.50" stroke="#000000" stroke-width="1.1" />
<line x1="271.60" y1="253.50" x2="275.40" y2="253.50" stroke="#000000" stroke-width="1.1" />
<rect x="271.00" y="247.70" width="4.6" height="4.6" fill="#000000"/>
<rect x="282.20" y="283.20" width="4.6" height="4.6" fill="#000000"/>
<rect x="293.20" y="285.70" width="4.6" height="4.6" fill="#000000"/>
<line x1="306.50" y1="206.50" x2="306.50" y2="215.50" stroke="#000000" stroke-width="1.1" />
<line x1="304.60" y1="206.50" x2="308.40" y2="206.50" stroke="#000000" stroke-width="1.1" />
<line x1="304.60" y1="215.50" x2="308.40" y2="215.50" stroke="#000000" stroke-width="1.1" />
<rect x="304.20" y="209.00" width="4.6" height="4.6" fill="#000000"/>
<line x1="317.50" y1="229.50" x2="317.50" y2="248.50" stroke="#000000" stroke-width="1.1" />
<line x1="315.60" y1="229.50" x2="319.40" y2="229.50" stroke="#000000" stroke-width="1.1" />
<line x1="315.60" y1="248.50" x2="319.40" y2="248.50" stroke="#000000" stroke-width="1.1" />
<rect x="315.20" y="236.50" width="4.6" height="4.6" fill="#000000"/>
<line x1="328.50" y1="250.50" x2="328.50" y2="267.50" stroke="#000000" stroke-width="1.1" />
<line x1="326.60" y1="250.50" x2="330.40" y2="250.50" stroke="#000000" stroke-width="1.1" />
<line x1="326.60" y1="267.50" x2="330.40" y2="267.50" stroke="#000000" stroke-width="1.1" />
<rect x="326.20" y="257.00" width="4.6" height="4.6" fill="#000000"/>
<line x1="255.50" y1="192.50" x2="255.50" y2="297.00" stroke="#111" stroke-width="1" />
<line x1="252.50" y1="296.50" x2="255.50" y2="296.50" stroke="#111" stroke-width="1" />
<text x="248.90" y="299.50" font-size="8.15" text-anchor="end" fill="#111" >0</text>
<line x1="252.50" y1="261.50" x2="255.50" y2="261.50" stroke="#111" stroke-width="1" />
<text x="248.90" y="265.00" font-size="8.15" text-anchor="end" fill="#111" >50</text>
<line x1="252.50" y1="227.50" x2="255.50" y2="227.50" stroke="#111" stroke-width="1" />
<text x="248.90" y="230.50" font-size="8.15" text-anchor="end" fill="#111" >100</text>
<line x1="252.50" y1="192.50" x2="255.50" y2="192.50" stroke="#111" stroke-width="1" />
<text x="248.90" y="196.00" font-size="8.15" text-anchor="end" fill="#111" >150</text>
<line x1="255.00" y1="296.50" x2="360.00" y2="296.50" stroke="#111" stroke-width="1" />
<line x1="359.50" y1="192.50" x2="359.50" y2="297.00" stroke="#111" stroke-width="1" />
<line x1="359.50" y1="296.50" x2="362.50" y2="296.50" stroke="#111" stroke-width="1" />
<text x="364.30" y="299.50" font-size="8.15" text-anchor="start" fill="#111" >0</text>
<line x1="359.50" y1="275.50" x2="362.50" y2="275.50" stroke="#111" stroke-width="1" />
<text x="364.30" y="278.80" font-size="8.15" text-anchor="start" fill="#111" >5</text>
<line x1="359.50" y1="255.50" x2="362.50" y2="255.50" stroke="#111" stroke-width="1" />
<text x="364.30" y="258.10" font-size="8.15" text-anchor="start" fill="#111" >10</text>
<line x1="359.50" y1="234.50" x2="362.50" y2="234.50" stroke="#111" stroke-width="1" />
<text x="364.30" y="237.40" font-size="8.15" text-anchor="start" fill="#111" >15</text>
<line x1="359.50" y1="213.50" x2="362.50" y2="213.50" stroke="#111" stroke-width="1" />
<text x="364.30" y="216.70" font-size="8.15" text-anchor="start" fill="#111" >20</text>
<line x1="359.50" y1="192.50" x2="362.50" y2="192.50" stroke="#111" stroke-width="1" />
<text x="364.30" y="196.00" font-size="8.15" text-anchor="start" fill="#111" >25</text>
<text transform="translate(230.80,243.80) rotate(-90)" font-size="8.1" text-anchor="middle" fill="#111">pFGFR2/tFGFR2 (%)</text>
<text transform="translate(377.80,245.25) rotate(90)" font-size="8.0" text-anchor="middle" fill="#111">Free concentration (ng/mL)</text>
<text transform="translate(264.40,302.70) rotate(-90)" font-size="8.0" text-anchor="end" fill="#111">Vehicle</text>
<line x1="262.50" y1="296.50" x2="262.50" y2="299.70" stroke="#111" stroke-width="1" />
<text x="273.30" y="308.10" font-size="8.15" text-anchor="middle" fill="#111" >2</text>
<line x1="273.50" y1="296.50" x2="273.50" y2="299.70" stroke="#111" stroke-width="1" />
<text x="284.50" y="308.10" font-size="8.15" text-anchor="middle" fill="#111" >8</text>
<line x1="284.50" y1="296.50" x2="284.50" y2="299.70" stroke="#111" stroke-width="1" />
<text x="295.50" y="308.10" font-size="8.15" text-anchor="middle" fill="#111" >12</text>
<line x1="295.50" y1="296.50" x2="295.50" y2="299.70" stroke="#111" stroke-width="1" />
<line x1="269.80" y1="309.50" x2="299.50" y2="309.50" stroke="#111" stroke-width="0.9" />
<text x="284.65" y="319.40" font-size="8.15" text-anchor="middle" fill="#111" >10</text>
<text x="306.50" y="308.10" font-size="8.15" text-anchor="middle" fill="#111" >2</text>
<line x1="306.50" y1="296.50" x2="306.50" y2="299.70" stroke="#111" stroke-width="1" />
<text x="317.50" y="308.10" font-size="8.15" text-anchor="middle" fill="#111" >8</text>
<line x1="317.50" y1="296.50" x2="317.50" y2="299.70" stroke="#111" stroke-width="1" />
<text x="328.50" y="308.10" font-size="8.15" text-anchor="middle" fill="#111" >12</text>
<line x1="328.50" y1="296.50" x2="328.50" y2="299.70" stroke="#111" stroke-width="1" />
<line x1="303.00" y1="309.50" x2="332.50" y2="309.50" stroke="#111" stroke-width="0.9" />
<text x="317.75" y="319.40" font-size="8.15" text-anchor="middle" fill="#111" >30</text>
<text x="340.10" y="308.10" font-size="8.15" text-anchor="middle" fill="#111" >2</text>
<line x1="340.50" y1="296.50" x2="340.50" y2="299.70" stroke="#111" stroke-width="1" />
<text x="351.30" y="308.10" font-size="8.15" text-anchor="middle" fill="#111" >8</text>
<line x1="351.50" y1="296.50" x2="351.50" y2="299.70" stroke="#111" stroke-width="1" />
<line x1="336.60" y1="309.50" x2="357.80" y2="309.50" stroke="#111" stroke-width="0.9" />
<text x="347.20" y="319.40" font-size="8.15" text-anchor="middle" fill="#111" >Fut</text>
<text x="363.80" y="308.00" font-size="8.1" text-anchor="start" fill="#111" >h after</text>
<text x="363.80" y="317.40" font-size="8.1" text-anchor="start" fill="#111" >dose</text>
<rect x="395.5" y="187.5" width="124" height="110" fill="#fff" stroke="#222" stroke-width="1"/>
<line x1="398.30" y1="198.00" x2="409.60" y2="198.00" stroke="#c8d8f3" stroke-width="1.3" />
<circle cx="404.00" cy="198.00" r="2.6" fill="#c8d8f3"/>
<text x="415.00" y="200.90" font-size="8.15" text-anchor="start" fill="#111" >RLY-4008 (1 mg/kg b.i.d)</text>
<line x1="398.30" y1="212.60" x2="409.60" y2="212.60" stroke="#5497ec" stroke-width="1.3" />
<circle cx="404.00" cy="212.60" r="2.6" fill="#5497ec"/>
<text x="415.00" y="215.50" font-size="8.15" text-anchor="start" fill="#111" >RLY-4008 (3 mg/kg b.i.d)</text>
<line x1="398.30" y1="228.00" x2="409.60" y2="228.00" stroke="#1010e8" stroke-width="1.3" />
<circle cx="404.00" cy="228.00" r="2.6" fill="#1010e8"/>
<text x="415.00" y="230.90" font-size="8.15" text-anchor="start" fill="#111" >RLY-4008 (10 mg/kg b.i.d)</text>
<line x1="398.30" y1="242.60" x2="409.60" y2="242.60" stroke="#a41fe0" stroke-width="1.3" />
<circle cx="404.00" cy="242.60" r="2.6" fill="#a41fe0"/>
<text x="415.00" y="245.50" font-size="8.15" text-anchor="start" fill="#111" >RLY-4008 (30 mg/kg b.i.d)</text>
<line x1="398.30" y1="258.70" x2="409.60" y2="258.70" stroke="#22b325" stroke-width="1.3" />
<circle cx="404.00" cy="258.70" r="2.6" fill="#22b325"/>
<text x="415.00" y="261.60" font-size="8.15" text-anchor="start" fill="#111" >Pemigatinib (0.5 mg/kg b.i.d)</text>
<line x1="398.30" y1="273.20" x2="409.60" y2="273.20" stroke="#f0141a" stroke-width="1.3" />
<circle cx="404.00" cy="273.20" r="2.6" fill="#f0141a"/>
<text x="415.00" y="276.10" font-size="8.15" text-anchor="start" fill="#111" >Futibatinib (2 mg/kg t.i.d.)</text>
<line x1="398.30" y1="288.00" x2="409.60" y2="288.00" stroke="#000000" stroke-width="1.3" />
<circle cx="404.00" cy="288.00" r="2.6" fill="#000000"/>
<text x="415.00" y="290.90" font-size="8.15" text-anchor="start" fill="#111" >Vehicle</text>
<text transform="translate(3.60,353.80) scale(0.9,1)" font-size="12.0" font-weight="bold" fill="#000">E</text>
<text x="120.30" y="353.90" font-size="8.0" text-anchor="middle" fill="#111" >AN3CA</text>
<text x="120.30" y="362.60" font-size="8.0" text-anchor="middle" fill="#111" >(<tspan font-style="italic">FGFR2</tspan><tspan font-size="6" dy="-2.6" stroke-width="0.05">K310R;N549K</tspan><tspan dy="2.6">)</tspan></text>
<line x1="43.50" y1="362.30" x2="43.50" y2="410.60" stroke="#111" stroke-width="1" />
<line x1="43.50" y1="418.80" x2="43.50" y2="466.00" stroke="#111" stroke-width="1" />
<line x1="40.10" y1="408.20" x2="46.90" y2="413.00" stroke="#111" stroke-width="1" />
<line x1="40.10" y1="416.40" x2="46.90" y2="421.20" stroke="#111" stroke-width="1" />
<line x1="40.00" y1="362.80" x2="43.50" y2="362.80" stroke="#111" stroke-width="1" />
<text x="36.50" y="365.80" font-size="7.7" text-anchor="end" fill="#111" >5,000</text>
<line x1="40.00" y1="374.60" x2="43.50" y2="374.60" stroke="#111" stroke-width="1" />
<text x="36.50" y="377.60" font-size="7.7" text-anchor="end" fill="#111" >4,000</text>
<line x1="40.00" y1="386.40" x2="43.50" y2="386.40" stroke="#111" stroke-width="1" />
<text x="36.50" y="389.40" font-size="7.7" text-anchor="end" fill="#111" >3,000</text>
<line x1="40.00" y1="398.20" x2="43.50" y2="398.20" stroke="#111" stroke-width="1" />
<text x="36.50" y="401.20" font-size="7.7" text-anchor="end" fill="#111" >2,000</text>
<text x="36.50" y="410.60" font-size="7.7" text-anchor="end" fill="#111" >1,000</text>
<text x="36.50" y="421.00" font-size="7.7" text-anchor="end" fill="#111" >1,000</text>
<line x1="40.00" y1="441.75" x2="43.50" y2="441.75" stroke="#111" stroke-width="1" />
<text x="36.50" y="444.75" font-size="7.7" text-anchor="end" fill="#111" >500</text>
<line x1="40.00" y1="465.50" x2="43.50" y2="465.50" stroke="#111" stroke-width="1" />
<text x="36.50" y="468.50" font-size="7.7" text-anchor="end" fill="#111" >0</text>
<line x1="43.00" y1="465.50" x2="197.00" y2="465.50" stroke="#111" stroke-width="1" />
<line x1="43.50" y1="465.50" x2="43.50" y2="468.50" stroke="#111" stroke-width="1" />
<text x="43.50" y="479.00" font-size="8.15" text-anchor="middle" fill="#111" >0</text>
<line x1="94.50" y1="465.50" x2="94.50" y2="468.50" stroke="#111" stroke-width="1" />
<text x="94.50" y="479.00" font-size="8.15" text-anchor="middle" fill="#111" >5</text>
<line x1="145.50" y1="465.50" x2="145.50" y2="468.50" stroke="#111" stroke-width="1" />
<text x="145.50" y="479.00" font-size="8.15" text-anchor="middle" fill="#111" >10</text>
<line x1="196.50" y1="465.50" x2="196.50" y2="468.50" stroke="#111" stroke-width="1" />
<text x="196.50" y="479.00" font-size="8.15" text-anchor="middle" fill="#111" >15</text>
<line x1="43.50" y1="458.85" x2="193.44" y2="458.85" stroke="#30305a" stroke-width="1" stroke-dasharray="1.3 5.3"/>
<line x1="43.50" y1="458.85" x2="193.44" y2="458.85" stroke="#5a3050" stroke-width="1" stroke-dasharray="1.3 5.3" stroke-dashoffset="-3.3"/>
<line x1="104.50" y1="427.50" x2="104.50" y2="435.50" stroke="#000000" stroke-width="1" />
<line x1="102.50" y1="427.50" x2="106.50" y2="427.50" stroke="#000000" stroke-width="1" />
<line x1="102.50" y1="435.50" x2="106.50" y2="435.50" stroke="#000000" stroke-width="1" />
<line x1="186.50" y1="370.50" x2="186.50" y2="384.50" stroke="#000000" stroke-width="1" />
<line x1="184.00" y1="370.50" x2="189.00" y2="370.50" stroke="#000000" stroke-width="1" />
<line x1="184.00" y1="384.50" x2="189.00" y2="384.50" stroke="#000000" stroke-width="1" />
<polyline fill="none" stroke="#000000" stroke-width="1.3" stroke-linejoin="round"  points="43.50,458.85 63.90,455.52 104.70,432.25 123.00,419.60"/>
<polyline fill="none" stroke="#000000" stroke-width="1.3" stroke-linejoin="round"  points="129.80,408.30 135.30,404.69 165.90,392.89 186.30,376.37"/>
<circle cx="43.50" cy="458.85" r="2.8" fill="#000000"/>
<circle cx="63.90" cy="455.52" r="2.8" fill="#000000"/>
<circle cx="104.70" cy="432.25" r="2.8" fill="#000000"/>
<circle cx="135.30" cy="404.69" r="2.8" fill="#000000"/>
<circle cx="165.90" cy="392.89" r="2.8" fill="#000000"/>
<circle cx="186.30" cy="376.37" r="2.8" fill="#000000"/>
<polyline fill="none" stroke="#b91ae0" stroke-width="1.3" stroke-linejoin="round"  points="43.50,458.85 63.90,457.90 104.70,464.31 135.30,464.64 165.90,465.02 186.30,465.12"/>
<circle cx="43.50" cy="458.85" r="2.8" fill="#b91ae0"/>
<circle cx="63.90" cy="457.90" r="2.8" fill="#b91ae0"/>
<circle cx="104.70" cy="464.31" r="2.8" fill="#b91ae0"/>
<circle cx="135.30" cy="464.64" r="2.8" fill="#b91ae0"/>
<circle cx="165.90" cy="465.02" r="2.8" fill="#b91ae0"/>
<circle cx="186.30" cy="465.12" r="2.8" fill="#b91ae0"/>
<polyline fill="none" stroke="#1010e8" stroke-width="1.3" stroke-linejoin="round"  points="43.50,458.85 63.90,456.48 104.70,454.10 135.30,450.54 165.90,453.62 186.30,454.81"/>
<circle cx="43.50" cy="458.85" r="2.9" fill="#1010e8"/>
<circle cx="63.90" cy="456.48" r="2.9" fill="#1010e8"/>
<circle cx="104.70" cy="454.10" r="2.9" fill="#1010e8"/>
<circle cx="135.30" cy="450.54" r="2.9" fill="#1010e8"/>
<circle cx="165.90" cy="453.62" r="2.9" fill="#1010e8"/>
<circle cx="186.30" cy="454.81" r="2.9" fill="#1010e8"/>
<line x1="104.50" y1="433.50" x2="104.50" y2="438.50" stroke="#5ba7f0" stroke-width="1" />
<line x1="102.50" y1="433.50" x2="106.50" y2="433.50" stroke="#5ba7f0" stroke-width="1" />
<line x1="102.50" y1="438.50" x2="106.50" y2="438.50" stroke="#5ba7f0" stroke-width="1" />
<polyline fill="none" stroke="#5ba7f0" stroke-width="1.3" stroke-linejoin="round"  points="43.50,458.85 63.90,455.76 104.70,436.05 120.30,419.60"/>
<polyline fill="none" stroke="#5ba7f0" stroke-width="1.3" stroke-linejoin="round"  points="130.30,408.80 135.30,405.63 165.90,397.02 186.30,388.76"/>
<circle cx="43.50" cy="458.85" r="2.8" fill="#5ba7f0"/>
<circle cx="63.90" cy="455.76" r="2.8" fill="#5ba7f0"/>
<rect x="102.20" y="433.55" width="5.0" height="5.0" fill="#5ba7f0"/>
<rect x="132.80" y="403.13" width="5.0" height="5.0" fill="#5ba7f0"/>
<rect x="163.40" y="394.52" width="5.0" height="5.0" fill="#5ba7f0"/>
<rect x="183.80" y="386.26" width="5.0" height="5.0" fill="#5ba7f0"/>
<circle cx="43.50" cy="458.85" r="3.0" fill="#5ba7f0"/>
<circle cx="63.90" cy="455.76" r="2.9" fill="#5ba7f0"/>
<text x="120.40" y="486.80" font-size="8.1" text-anchor="middle" fill="#111" >Days of treatment</text>
<text transform="translate(9.20,414.50) rotate(-90)" font-size="8.1" text-anchor="middle" fill="#111">Tumor volume (mm<tspan font-size="5.2" dy="-2.6">3</tspan><tspan dy="2.6">)</tspan></text>
<text transform="translate(221.10,354.20) scale(0.9,1)" font-size="12.0" font-weight="bold" fill="#000">F</text>
<text x="310.20" y="353.90" font-size="8.0" text-anchor="middle" fill="#111" >AN3CA</text>
<text x="310.20" y="362.60" font-size="8.0" text-anchor="middle" fill="#111" >(<tspan font-style="italic">FGFR2</tspan><tspan font-size="6" dy="-2.6" stroke-width="0.05">K310R;N549K</tspan><tspan dy="2.6">)</tspan></text>
<line x1="261.50" y1="395.17" x2="261.50" y2="392.50" stroke="#000000" stroke-width="1" />
<line x1="259.30" y1="392.50" x2="263.70" y2="392.50" stroke="#000000" stroke-width="1" />
<rect x="257.35" y="395.17" width="7.3" height="69.33" fill="#000000"/>
<line x1="271.50" y1="444.39" x2="271.50" y2="443.50" stroke="#5497ec" stroke-width="1" />
<line x1="269.30" y1="443.50" x2="273.70" y2="443.50" stroke="#5497ec" stroke-width="1" />
<rect x="268.15" y="444.39" width="7.3" height="20.11" fill="#5497ec"/>
<line x1="282.50" y1="435.38" x2="282.50" y2="430.50" stroke="#5497ec" stroke-width="1" />
<line x1="280.30" y1="430.50" x2="284.70" y2="430.50" stroke="#5497ec" stroke-width="1" />
<rect x="279.15" y="435.38" width="7.3" height="29.12" fill="#5497ec"/>
<line x1="293.50" y1="418.05" x2="293.50" y2="416.50" stroke="#5497ec" stroke-width="1" />
<line x1="291.30" y1="416.50" x2="295.70" y2="416.50" stroke="#5497ec" stroke-width="1" />
<rect x="290.15" y="418.05" width="7.3" height="46.45" fill="#5497ec"/>
<line x1="304.50" y1="458.26" x2="304.50" y2="457.50" stroke="#1010e8" stroke-width="1" />
<line x1="302.30" y1="457.50" x2="306.70" y2="457.50" stroke="#1010e8" stroke-width="1" />
<rect x="301.15" y="458.26" width="7.3" height="6.24" fill="#1010e8"/>
<line x1="315.50" y1="442.31" x2="315.50" y2="438.50" stroke="#1010e8" stroke-width="1" />
<line x1="313.30" y1="438.50" x2="317.70" y2="438.50" stroke="#1010e8" stroke-width="1" />
<rect x="312.15" y="442.31" width="7.3" height="22.19" fill="#1010e8"/>
<line x1="326.50" y1="433.30" x2="326.50" y2="428.50" stroke="#1010e8" stroke-width="1" />
<line x1="324.30" y1="428.50" x2="328.70" y2="428.50" stroke="#1010e8" stroke-width="1" />
<rect x="323.15" y="433.30" width="7.3" height="31.20" fill="#1010e8"/>
<line x1="337.50" y1="463.81" x2="337.50" y2="463.50" stroke="#b91ae0" stroke-width="1" />
<line x1="335.30" y1="463.50" x2="339.70" y2="463.50" stroke="#b91ae0" stroke-width="1" />
<rect x="333.65" y="463.81" width="7.3" height="0.69" fill="#b91ae0"/>
<line x1="347.50" y1="462.77" x2="347.50" y2="461.50" stroke="#b91ae0" stroke-width="1" />
<line x1="345.30" y1="461.50" x2="349.70" y2="461.50" stroke="#b91ae0" stroke-width="1" />
<rect x="344.15" y="462.77" width="7.3" height="1.73" fill="#b91ae0"/>
<line x1="358.50" y1="457.57" x2="358.50" y2="452.50" stroke="#b91ae0" stroke-width="1" />
<line x1="356.30" y1="452.50" x2="360.70" y2="452.50" stroke="#b91ae0" stroke-width="1" />
<rect x="354.65" y="457.57" width="7.3" height="6.93" fill="#b91ae0"/>
<line x1="254.50" y1="457.57" x2="366.50" y2="457.57" stroke="#8a9e96" stroke-width="0.9" stroke-dasharray="1 1.4"/>
<rect x="269.50" y="446.50" width="4.6" height="4.6" fill="#000000"/>
<rect x="280.50" y="459.00" width="4.6" height="4.6" fill="#000000"/>
<rect x="291.50" y="461.00" width="4.6" height="4.6" fill="#000000"/>
<rect x="302.50" y="422.20" width="4.6" height="4.6" fill="#000000"/>
<rect x="313.50" y="450.70" width="4.6" height="4.6" fill="#000000"/>
<rect x="324.50" y="460.70" width="4.6" height="4.6" fill="#000000"/>
<line x1="337.50" y1="366.50" x2="337.50" y2="375.50" stroke="#000000" stroke-width="1.1" />
<line x1="335.60" y1="366.50" x2="339.40" y2="366.50" stroke="#000000" stroke-width="1.1" />
<line x1="335.60" y1="375.50" x2="339.40" y2="375.50" stroke="#000000" stroke-width="1.1" />
<rect x="335.00" y="369.00" width="4.6" height="4.6" fill="#000000"/>
<line x1="347.50" y1="395.50" x2="347.50" y2="412.50" stroke="#000000" stroke-width="1.1" />
<line x1="345.60" y1="395.50" x2="349.40" y2="395.50" stroke="#000000" stroke-width="1.1" />
<line x1="345.60" y1="412.50" x2="349.40" y2="412.50" stroke="#000000" stroke-width="1.1" />
<rect x="345.50" y="402.00" width="4.6" height="4.6" fill="#000000"/>
<line x1="358.50" y1="441.50" x2="358.50" y2="455.50" stroke="#000000" stroke-width="1.1" />
<line x1="356.60" y1="441.50" x2="360.40" y2="441.50" stroke="#000000" stroke-width="1.1" />
<line x1="356.60" y1="455.50" x2="360.40" y2="455.50" stroke="#000000" stroke-width="1.1" />
<rect x="356.00" y="446.00" width="4.6" height="4.6" fill="#000000"/>
<line x1="254.50" y1="360.00" x2="254.50" y2="465.00" stroke="#111" stroke-width="1" />
<line x1="251.50" y1="464.50" x2="254.50" y2="464.50" stroke="#111" stroke-width="1" />
<text x="246.90" y="467.33" font-size="7.7" text-anchor="end" fill="#111" >0</text>
<line x1="251.50" y1="429.50" x2="254.50" y2="429.50" stroke="#111" stroke-width="1" />
<text x="246.90" y="432.67" font-size="7.7" text-anchor="end" fill="#111" >50</text>
<line x1="251.50" y1="395.50" x2="254.50" y2="395.50" stroke="#111" stroke-width="1" />
<text x="246.90" y="398.00" font-size="7.7" text-anchor="end" fill="#111" >100</text>
<line x1="251.50" y1="360.50" x2="254.50" y2="360.50" stroke="#111" stroke-width="1" />
<text x="246.90" y="363.33" font-size="7.7" text-anchor="end" fill="#111" >150</text>
<line x1="254.00" y1="464.50" x2="367.00" y2="464.50" stroke="#111" stroke-width="1" />
<line x1="366.50" y1="360.00" x2="366.50" y2="465.00" stroke="#111" stroke-width="1" />
<line x1="366.50" y1="464.50" x2="369.50" y2="464.50" stroke="#111" stroke-width="1" />
<text x="372.70" y="467.50" font-size="8.15" text-anchor="start" fill="#111" >0</text>
<line x1="366.50" y1="443.50" x2="369.50" y2="443.50" stroke="#111" stroke-width="1" />
<text x="372.70" y="446.70" font-size="8.15" text-anchor="start" fill="#111" >5</text>
<line x1="366.50" y1="422.50" x2="369.50" y2="422.50" stroke="#111" stroke-width="1" />
<text x="372.70" y="425.90" font-size="8.15" text-anchor="start" fill="#111" >10</text>
<line x1="366.50" y1="402.50" x2="369.50" y2="402.50" stroke="#111" stroke-width="1" />
<text x="372.70" y="405.10" font-size="8.15" text-anchor="start" fill="#111" >15</text>
<line x1="366.50" y1="381.50" x2="369.50" y2="381.50" stroke="#111" stroke-width="1" />
<text x="372.70" y="384.30" font-size="8.15" text-anchor="start" fill="#111" >20</text>
<line x1="366.50" y1="360.50" x2="369.50" y2="360.50" stroke="#111" stroke-width="1" />
<text x="372.70" y="363.50" font-size="8.15" text-anchor="start" fill="#111" >25</text>
<text transform="translate(230.30,411.50) rotate(-90)" font-size="8.1" text-anchor="middle" fill="#111">pFGFR2/tFGFR2 (%)</text>
<text transform="translate(387.30,413.00) rotate(90)" font-size="8.0" text-anchor="middle" fill="#111">Free concentration (ng/mL)</text>
<text transform="translate(263.00,470.70) rotate(-90)" font-size="8.0" text-anchor="end" fill="#111">Vehicle</text>
<line x1="261.50" y1="464.50" x2="261.50" y2="467.70" stroke="#111" stroke-width="1" />
<text x="271.80" y="476.70" font-size="8.15" text-anchor="middle" fill="#111" >2</text>
<line x1="271.50" y1="464.50" x2="271.50" y2="467.70" stroke="#111" stroke-width="1" />
<text x="282.80" y="476.70" font-size="8.15" text-anchor="middle" fill="#111" >8</text>
<line x1="282.50" y1="464.50" x2="282.50" y2="467.70" stroke="#111" stroke-width="1" />
<text x="293.80" y="476.70" font-size="8.15" text-anchor="middle" fill="#111" >12</text>
<line x1="293.50" y1="464.50" x2="293.50" y2="467.70" stroke="#111" stroke-width="1" />
<line x1="268.30" y1="479.50" x2="297.80" y2="479.50" stroke="#111" stroke-width="0.9" />
<text x="283.05" y="488.10" font-size="8.15" text-anchor="middle" fill="#111" >3</text>
<text x="304.80" y="476.70" font-size="8.15" text-anchor="middle" fill="#111" >2</text>
<line x1="304.50" y1="464.50" x2="304.50" y2="467.70" stroke="#111" stroke-width="1" />
<text x="315.80" y="476.70" font-size="8.15" text-anchor="middle" fill="#111" >8</text>
<line x1="315.50" y1="464.50" x2="315.50" y2="467.70" stroke="#111" stroke-width="1" />
<text x="326.80" y="476.70" font-size="8.15" text-anchor="middle" fill="#111" >12</text>
<line x1="326.50" y1="464.50" x2="326.50" y2="467.70" stroke="#111" stroke-width="1" />
<line x1="301.30" y1="479.50" x2="330.80" y2="479.50" stroke="#111" stroke-width="0.9" />
<text x="316.05" y="488.10" font-size="8.15" text-anchor="middle" fill="#111" >10</text>
<text x="337.30" y="476.70" font-size="8.15" text-anchor="middle" fill="#111" >2</text>
<line x1="337.50" y1="464.50" x2="337.50" y2="467.70" stroke="#111" stroke-width="1" />
<text x="347.80" y="476.70" font-size="8.15" text-anchor="middle" fill="#111" >8</text>
<line x1="347.50" y1="464.50" x2="347.50" y2="467.70" stroke="#111" stroke-width="1" />
<text x="358.30" y="476.70" font-size="8.15" text-anchor="middle" fill="#111" >12</text>
<line x1="358.50" y1="464.50" x2="358.50" y2="467.70" stroke="#111" stroke-width="1" />
<line x1="333.80" y1="479.50" x2="362.30" y2="479.50" stroke="#111" stroke-width="0.9" />
<text x="348.05" y="488.10" font-size="8.15" text-anchor="middle" fill="#111" >30</text>
<text x="372.80" y="476.60" font-size="8.1" text-anchor="start" fill="#111" >h after</text>
<text x="372.80" y="486.00" font-size="8.1" text-anchor="start" fill="#111" >dose</text>
<text transform="translate(3.00,526.80) scale(0.9,1)" font-size="12.0" font-weight="bold" fill="#000">G</text>
<text x="124.20" y="529.90" font-size="8.0" text-anchor="middle" fill="#111" >ICC13-7</text>
<text x="124.20" y="539.70" font-size="8.0" text-anchor="middle" fill="#111" >(<tspan font-style="italic">FGFR2–OPTN</tspan> fusion)</text>
<line x1="44.50" y1="540.50" x2="44.50" y2="648.00" stroke="#111" stroke-width="1" />
<line x1="40.00" y1="647.50" x2="44.50" y2="647.50" stroke="#111" stroke-width="1" />
<text x="35.80" y="650.50" font-size="8.15" text-anchor="end" fill="#111" >0</text>
<line x1="40.00" y1="629.50" x2="44.50" y2="629.50" stroke="#111" stroke-width="1" />
<text x="35.80" y="632.75" font-size="8.15" text-anchor="end" fill="#111" >200</text>
<line x1="40.00" y1="611.50" x2="44.50" y2="611.50" stroke="#111" stroke-width="1" />
<text x="35.80" y="615.00" font-size="8.15" text-anchor="end" fill="#111" >400</text>
<line x1="40.00" y1="594.50" x2="44.50" y2="594.50" stroke="#111" stroke-width="1" />
<text x="35.80" y="597.25" font-size="8.15" text-anchor="end" fill="#111" >600</text>
<line x1="40.00" y1="576.50" x2="44.50" y2="576.50" stroke="#111" stroke-width="1" />
<text x="35.80" y="579.50" font-size="8.15" text-anchor="end" fill="#111" >800</text>
<line x1="40.00" y1="558.50" x2="44.50" y2="558.50" stroke="#111" stroke-width="1" />
<text x="35.80" y="561.75" font-size="8.15" text-anchor="end" fill="#111" >1,000</text>
<line x1="40.00" y1="540.50" x2="44.50" y2="540.50" stroke="#111" stroke-width="1" />
<text x="35.80" y="544.00" font-size="8.15" text-anchor="end" fill="#111" >1,200</text>
<line x1="44.00" y1="647.50" x2="204.76" y2="647.50" stroke="#111" stroke-width="1" />
<line x1="43.50" y1="647.50" x2="43.50" y2="651.80" stroke="#111" stroke-width="1" />
<text x="44.00" y="661.40" font-size="8.15" text-anchor="middle" fill="#111" >0</text>
<line x1="70.50" y1="647.50" x2="70.50" y2="651.80" stroke="#111" stroke-width="1" />
<text x="70.71" y="661.40" font-size="8.15" text-anchor="middle" fill="#111" >5</text>
<line x1="97.50" y1="647.50" x2="97.50" y2="651.80" stroke="#111" stroke-width="1" />
<text x="97.42" y="661.40" font-size="8.15" text-anchor="middle" fill="#111" >10</text>
<line x1="124.50" y1="647.50" x2="124.50" y2="651.80" stroke="#111" stroke-width="1" />
<text x="124.13" y="661.40" font-size="8.15" text-anchor="middle" fill="#111" >15</text>
<line x1="150.50" y1="647.50" x2="150.50" y2="651.80" stroke="#111" stroke-width="1" />
<text x="150.84" y="661.40" font-size="8.15" text-anchor="middle" fill="#111" >20</text>
<line x1="177.50" y1="647.50" x2="177.50" y2="651.80" stroke="#111" stroke-width="1" />
<text x="177.55" y="661.40" font-size="8.15" text-anchor="middle" fill="#111" >25</text>
<line x1="204.50" y1="647.50" x2="204.50" y2="651.80" stroke="#111" stroke-width="1" />
<text x="204.26" y="661.40" font-size="8.15" text-anchor="middle" fill="#111" >30</text>
<line x1="44.00" y1="630.99" x2="204.26" y2="630.99" stroke="#5a5a28" stroke-width="1" stroke-dasharray="1.3 5.3"/>
<line x1="44.00" y1="630.99" x2="204.26" y2="630.99" stroke="#3a3a8a" stroke-width="1" stroke-dasharray="1.3 5.3" stroke-dashoffset="-3.3"/>
<line x1="102.50" y1="609.50" x2="102.50" y2="605.50" stroke="#000000" stroke-width="1" />
<line x1="100.50" y1="609.50" x2="104.50" y2="609.50" stroke="#000000" stroke-width="1" />
<line x1="100.50" y1="605.50" x2="104.50" y2="605.50" stroke="#000000" stroke-width="1" />
<line x1="118.50" y1="600.50" x2="118.50" y2="596.50" stroke="#000000" stroke-width="1" />
<line x1="116.50" y1="600.50" x2="120.50" y2="600.50" stroke="#000000" stroke-width="1" />
<line x1="116.50" y1="596.50" x2="120.50" y2="596.50" stroke="#000000" stroke-width="1" />
<line x1="140.50" y1="589.50" x2="140.50" y2="583.50" stroke="#000000" stroke-width="1" />
<line x1="138.50" y1="589.50" x2="142.50" y2="589.50" stroke="#000000" stroke-width="1" />
<line x1="138.50" y1="583.50" x2="142.50" y2="583.50" stroke="#000000" stroke-width="1" />
<line x1="156.50" y1="578.50" x2="156.50" y2="569.50" stroke="#000000" stroke-width="1" />
<line x1="154.50" y1="578.50" x2="158.50" y2="578.50" stroke="#000000" stroke-width="1" />
<line x1="154.50" y1="569.50" x2="158.50" y2="569.50" stroke="#000000" stroke-width="1" />
<line x1="177.50" y1="564.50" x2="177.50" y2="554.50" stroke="#000000" stroke-width="1" />
<line x1="175.50" y1="564.50" x2="179.50" y2="564.50" stroke="#000000" stroke-width="1" />
<line x1="175.50" y1="554.50" x2="179.50" y2="554.50" stroke="#000000" stroke-width="1" />
<line x1="193.50" y1="552.50" x2="193.50" y2="541.50" stroke="#000000" stroke-width="1" />
<line x1="191.50" y1="552.50" x2="195.50" y2="552.50" stroke="#000000" stroke-width="1" />
<line x1="191.50" y1="541.50" x2="195.50" y2="541.50" stroke="#000000" stroke-width="1" />
<polyline fill="none" stroke="#000000" stroke-width="1.3" stroke-linejoin="round"  points="44.00,631.52 65.37,624.42 81.39,617.33 102.76,607.56 118.79,598.69 140.16,586.71 156.18,573.75 177.55,559.28 193.58,546.77"/>
<circle cx="44.00" cy="631.52" r="2.7" fill="#000000"/>
<circle cx="65.37" cy="624.42" r="2.7" fill="#000000"/>
<circle cx="81.39" cy="617.33" r="2.7" fill="#000000"/>
<circle cx="102.76" cy="607.56" r="2.7" fill="#000000"/>
<circle cx="118.79" cy="598.69" r="2.7" fill="#000000"/>
<circle cx="140.16" cy="586.71" r="2.7" fill="#000000"/>
<circle cx="156.18" cy="573.75" r="2.7" fill="#000000"/>
<circle cx="177.55" cy="559.28" r="2.7" fill="#000000"/>
<circle cx="193.58" cy="546.77" r="2.7" fill="#000000"/>
<polyline fill="none" stroke="#999999" stroke-width="1.3" stroke-linejoin="round"  points="44.00,631.52 65.37,631.52 81.39,632.86 102.76,634.19 118.79,637.56 140.16,637.74 156.18,637.74 177.55,637.91 193.58,638.18"/>
<circle cx="44.00" cy="631.52" r="2.7" fill="#999999"/>
<circle cx="65.37" cy="631.52" r="2.7" fill="#999999"/>
<circle cx="81.39" cy="632.86" r="2.7" fill="#999999"/>
<circle cx="102.76" cy="634.19" r="2.7" fill="#999999"/>
<circle cx="118.79" cy="637.56" r="2.7" fill="#999999"/>
<circle cx="140.16" cy="637.74" r="2.7" fill="#999999"/>
<circle cx="156.18" cy="637.74" r="2.7" fill="#999999"/>
<circle cx="177.55" cy="637.91" r="2.7" fill="#999999"/>
<circle cx="193.58" cy="638.18" r="2.7" fill="#999999"/>
<polyline fill="none" stroke="#f68b1f" stroke-width="1.3" stroke-linejoin="round"  points="44.00,631.52 65.37,630.64 81.39,630.82 102.76,631.08 118.79,632.24 140.16,633.74 156.18,634.63 177.55,635.25 193.58,635.78"/>
<circle cx="44.00" cy="631.52" r="2.7" fill="#f68b1f"/>
<circle cx="65.37" cy="630.64" r="2.7" fill="#f68b1f"/>
<circle cx="81.39" cy="630.82" r="2.7" fill="#f68b1f"/>
<circle cx="102.76" cy="631.08" r="2.7" fill="#f68b1f"/>
<circle cx="118.79" cy="632.24" r="2.7" fill="#f68b1f"/>
<circle cx="140.16" cy="633.74" r="2.7" fill="#f68b1f"/>
<circle cx="156.18" cy="634.63" r="2.7" fill="#f68b1f"/>
<circle cx="177.55" cy="635.25" r="2.7" fill="#f68b1f"/>
<circle cx="193.58" cy="635.78" r="2.7" fill="#f68b1f"/>
<polyline fill="none" stroke="#22b325" stroke-width="1.3" stroke-linejoin="round"  points="44.00,631.52 65.37,629.31 81.39,630.19 102.76,631.97 118.79,636.41 140.16,636.67 156.18,636.85 177.55,636.85 193.58,636.85"/>
<circle cx="44.00" cy="631.52" r="2.7" fill="#22b325"/>
<circle cx="65.37" cy="629.31" r="2.7" fill="#22b325"/>
<circle cx="81.39" cy="630.19" r="2.7" fill="#22b325"/>
<circle cx="102.76" cy="631.97" r="2.7" fill="#22b325"/>
<circle cx="118.79" cy="636.41" r="2.7" fill="#22b325"/>
<circle cx="140.16" cy="636.67" r="2.7" fill="#22b325"/>
<circle cx="156.18" cy="636.85" r="2.7" fill="#22b325"/>
<circle cx="177.55" cy="636.85" r="2.7" fill="#22b325"/>
<circle cx="193.58" cy="636.85" r="2.7" fill="#22b325"/>
<polyline fill="none" stroke="#f0141a" stroke-width="1.3" stroke-linejoin="round"  points="44.00,631.52 65.37,633.30 81.39,634.19 102.76,635.08 118.79,636.14 140.16,636.41 156.18,636.67 177.55,637.03 193.58,637.21"/>
<circle cx="44.00" cy="631.52" r="2.7" fill="#f0141a"/>
<circle cx="65.37" cy="633.30" r="2.7" fill="#f0141a"/>
<circle cx="81.39" cy="634.19" r="2.7" fill="#f0141a"/>
<circle cx="102.76" cy="635.08" r="2.7" fill="#f0141a"/>
<circle cx="118.79" cy="636.14" r="2.7" fill="#f0141a"/>
<circle cx="140.16" cy="636.41" r="2.7" fill="#f0141a"/>
<circle cx="156.18" cy="636.67" r="2.7" fill="#f0141a"/>
<circle cx="177.55" cy="637.03" r="2.7" fill="#f0141a"/>
<circle cx="193.58" cy="637.21" r="2.7" fill="#f0141a"/>
<polyline fill="none" stroke="#b91ae0" stroke-width="1.3" stroke-linejoin="round"  points="44.00,631.52 65.37,636.41 81.39,637.74 102.76,638.18 118.79,639.96 140.16,640.22 156.18,640.22 177.55,640.22 193.58,640.58"/>
<circle cx="44.00" cy="631.52" r="2.7" fill="#b91ae0"/>
<circle cx="65.37" cy="636.41" r="2.7" fill="#b91ae0"/>
<circle cx="81.39" cy="637.74" r="2.7" fill="#b91ae0"/>
<circle cx="102.76" cy="638.18" r="2.7" fill="#b91ae0"/>
<circle cx="118.79" cy="639.96" r="2.7" fill="#b91ae0"/>
<circle cx="140.16" cy="640.22" r="2.7" fill="#b91ae0"/>
<circle cx="156.18" cy="640.22" r="2.7" fill="#b91ae0"/>
<circle cx="177.55" cy="640.22" r="2.7" fill="#b91ae0"/>
<circle cx="193.58" cy="640.58" r="2.7" fill="#b91ae0"/>
<polyline fill="none" stroke="#1010e8" stroke-width="1.3" stroke-linejoin="round"  points="44.00,631.52 65.37,633.12 81.39,633.74 102.76,634.19 118.79,635.52 140.16,635.52 156.18,635.61 177.55,635.43 193.58,635.78"/>
<circle cx="44.00" cy="631.52" r="2.7" fill="#1010e8"/>
<circle cx="65.37" cy="633.12" r="2.7" fill="#1010e8"/>
<circle cx="81.39" cy="633.74" r="2.7" fill="#1010e8"/>
<circle cx="102.76" cy="634.19" r="2.7" fill="#1010e8"/>
<circle cx="118.79" cy="635.52" r="2.7" fill="#1010e8"/>
<circle cx="140.16" cy="635.52" r="2.7" fill="#1010e8"/>
<circle cx="156.18" cy="635.61" r="2.7" fill="#1010e8"/>
<circle cx="177.55" cy="635.43" r="2.7" fill="#1010e8"/>
<circle cx="193.58" cy="635.78" r="2.7" fill="#1010e8"/>
<line x1="156.50" y1="628.50" x2="156.50" y2="621.50" stroke="#5ba7f0" stroke-width="1" />
<line x1="154.50" y1="628.50" x2="158.50" y2="628.50" stroke="#5ba7f0" stroke-width="1" />
<line x1="154.50" y1="621.50" x2="158.50" y2="621.50" stroke="#5ba7f0" stroke-width="1" />
<line x1="177.50" y1="627.50" x2="177.50" y2="620.50" stroke="#5ba7f0" stroke-width="1" />
<line x1="175.50" y1="627.50" x2="179.50" y2="627.50" stroke="#5ba7f0" stroke-width="1" />
<line x1="175.50" y1="620.50" x2="179.50" y2="620.50" stroke="#5ba7f0" stroke-width="1" />
<line x1="193.50" y1="626.50" x2="193.50" y2="617.50" stroke="#5ba7f0" stroke-width="1" />
<line x1="191.50" y1="626.50" x2="195.50" y2="626.50" stroke="#5ba7f0" stroke-width="1" />
<line x1="191.50" y1="617.50" x2="195.50" y2="617.50" stroke="#5ba7f0" stroke-width="1" />
<polyline fill="none" stroke="#5ba7f0" stroke-width="1.3" stroke-linejoin="round"  points="44.00,631.52 65.37,628.42 81.39,628.42 102.76,627.09 118.79,627.53 140.16,627.09 156.18,625.31 177.55,623.98 193.58,621.76"/>
<circle cx="44.00" cy="631.52" r="2.7" fill="#5ba7f0"/>
<circle cx="65.37" cy="628.42" r="2.7" fill="#5ba7f0"/>
<circle cx="81.39" cy="628.42" r="2.7" fill="#5ba7f0"/>
<circle cx="102.76" cy="627.09" r="2.7" fill="#5ba7f0"/>
<circle cx="118.79" cy="627.53" r="2.7" fill="#5ba7f0"/>
<circle cx="140.16" cy="627.09" r="2.7" fill="#5ba7f0"/>
<circle cx="156.18" cy="625.31" r="2.7" fill="#5ba7f0"/>
<circle cx="177.55" cy="623.98" r="2.7" fill="#5ba7f0"/>
<circle cx="193.58" cy="621.76" r="2.7" fill="#5ba7f0"/>
<circle cx="44.00" cy="631.52" r="2.6" fill="#5ba7f0"/>
<text x="124.00" y="671.50" font-size="8.1" text-anchor="middle" fill="#111" >Days of treatment</text>
<text transform="translate(9.30,593.80) rotate(-90)" font-size="8.1" text-anchor="middle" fill="#111">Tumor volume (mm<tspan font-size="5.2" dy="-2.6">3</tspan><tspan dy="2.6">)</tspan></text>
<text transform="translate(220.50,526.80) scale(0.9,1)" font-size="12.0" font-weight="bold" fill="#000">H</text>
<text x="326.80" y="529.90" font-size="8.0" text-anchor="middle" fill="#111" >ICC13-7</text>
<text x="326.80" y="538.70" font-size="8.0" text-anchor="middle" fill="#111" >(<tspan font-style="italic">FGFR2–OPTN</tspan> fusion)</text>
<circle cx="260.60" cy="592.30" r="2.7" fill="#000000"/>
<circle cx="262.30" cy="596.80" r="2.7" fill="#000000"/>
<circle cx="257.30" cy="607.00" r="2.7" fill="#000000"/>
<circle cx="259.30" cy="608.00" r="2.7" fill="#000000"/>
<circle cx="261.40" cy="607.20" r="2.7" fill="#000000"/>
<circle cx="263.50" cy="608.00" r="2.7" fill="#000000"/>
<circle cx="265.50" cy="607.00" r="2.7" fill="#000000"/>
<circle cx="259.90" cy="609.00" r="2.7" fill="#000000"/>
<circle cx="263.00" cy="609.00" r="2.7" fill="#000000"/>
<line x1="261.50" y1="598.50" x2="261.50" y2="610.50" stroke="#000000" stroke-width="1" />
<line x1="258.50" y1="598.50" x2="264.50" y2="598.50" stroke="#000000" stroke-width="1" />
<line x1="258.50" y1="610.50" x2="264.50" y2="610.50" stroke="#000000" stroke-width="1" />
<line x1="255.20" y1="604.20" x2="267.60" y2="604.20" stroke="#111" stroke-width="1.1" />
<rect x="277.80" y="583.60" width="5.0" height="5.0" fill="#5ba7f0"/>
<rect x="279.10" y="591.00" width="5.0" height="5.0" fill="#5ba7f0"/>
<rect x="276.30" y="594.70" width="5.0" height="5.0" fill="#5ba7f0"/>
<rect x="274.70" y="602.30" width="5.0" height="5.0" fill="#5ba7f0"/>
<rect x="279.00" y="603.80" width="5.0" height="5.0" fill="#5ba7f0"/>
<rect x="282.30" y="605.00" width="5.0" height="5.0" fill="#5ba7f0"/>
<rect x="276.80" y="606.10" width="5.0" height="5.0" fill="#5ba7f0"/>
<rect x="280.10" y="607.30" width="5.0" height="5.0" fill="#5ba7f0"/>
<rect x="277.80" y="614.30" width="5.0" height="5.0" fill="#5ba7f0"/>
<line x1="280.50" y1="593.50" x2="280.50" y2="612.50" stroke="#5ba7f0" stroke-width="1" />
<line x1="277.50" y1="593.50" x2="283.50" y2="593.50" stroke="#5ba7f0" stroke-width="1" />
<line x1="277.50" y1="612.50" x2="283.50" y2="612.50" stroke="#5ba7f0" stroke-width="1" />
<line x1="274.00" y1="602.40" x2="286.40" y2="602.40" stroke="#111" stroke-width="1.1" />
<polygon fill="#1010e8" points="296.20,588.74 301.80,588.74 299.00,583.70"/>
<polygon fill="#1010e8" points="297.20,596.44 302.80,596.44 300.00,591.40"/>
<polygon fill="#1010e8" points="299.00,598.24 304.60,598.24 301.80,593.20"/>
<polygon fill="#1010e8" points="294.90,600.44 300.50,600.44 297.70,595.40"/>
<polygon fill="#1010e8" points="292.60,605.74 298.20,605.74 295.40,600.70"/>
<polygon fill="#1010e8" points="291.60,608.24 297.20,608.24 294.40,603.20"/>
<polygon fill="#1010e8" points="296.40,609.04 302.00,609.04 299.20,604.00"/>
<polygon fill="#1010e8" points="298.80,611.24 304.40,611.24 301.60,606.20"/>
<polygon fill="#1010e8" points="300.40,613.64 306.00,613.64 303.20,608.60"/>
<line x1="299.50" y1="594.50" x2="299.50" y2="607.50" stroke="#1010e8" stroke-width="1" />
<line x1="296.50" y1="594.50" x2="302.50" y2="594.50" stroke="#1010e8" stroke-width="1" />
<line x1="296.50" y1="607.50" x2="302.50" y2="607.50" stroke="#1010e8" stroke-width="1" />
<line x1="292.80" y1="600.80" x2="305.20" y2="600.80" stroke="#111" stroke-width="1.1" />
<polygon fill="#a41fe0" points="314.90,580.26 320.50,580.26 317.70,585.30"/>
<polygon fill="#a41fe0" points="316.40,587.36 322.00,587.36 319.20,592.40"/>
<polygon fill="#a41fe0" points="318.00,589.16 323.60,589.16 320.80,594.20"/>
<polygon fill="#a41fe0" points="313.40,590.46 319.00,590.46 316.20,595.50"/>
<polygon fill="#a41fe0" points="311.10,592.76 316.70,592.76 313.90,597.80"/>
<polygon fill="#a41fe0" points="313.40,594.46 319.00,594.46 316.20,599.50"/>
<polygon fill="#a41fe0" points="315.70,595.96 321.30,595.96 318.50,601.00"/>
<polygon fill="#a41fe0" points="318.00,597.56 323.60,597.56 320.80,602.60"/>
<polygon fill="#a41fe0" points="319.60,599.16 325.20,599.16 322.40,604.20"/>
<line x1="317.50" y1="590.50" x2="317.50" y2="600.50" stroke="#a41fe0" stroke-width="1" />
<line x1="314.50" y1="590.50" x2="320.50" y2="590.50" stroke="#a41fe0" stroke-width="1" />
<line x1="314.50" y1="600.50" x2="320.50" y2="600.50" stroke="#a41fe0" stroke-width="1" />
<line x1="311.50" y1="595.00" x2="323.90" y2="595.00" stroke="#111" stroke-width="1.1" />
<circle cx="334.90" cy="559.20" r="2.7" fill="#f0141a"/>
<circle cx="338.10" cy="559.20" r="2.7" fill="#f0141a"/>
<circle cx="332.70" cy="568.50" r="2.7" fill="#f0141a"/>
<circle cx="334.50" cy="570.20" r="2.7" fill="#f0141a"/>
<circle cx="336.10" cy="571.80" r="2.7" fill="#f0141a"/>
<circle cx="337.70" cy="573.60" r="2.7" fill="#f0141a"/>
<circle cx="340.50" cy="568.00" r="2.7" fill="#f0141a"/>
<circle cx="334.90" cy="586.20" r="2.7" fill="#f0141a"/>
<circle cx="338.10" cy="586.20" r="2.7" fill="#f0141a"/>
<line x1="336.50" y1="562.50" x2="336.50" y2="581.50" stroke="#f0141a" stroke-width="1" />
<line x1="333.50" y1="562.50" x2="339.50" y2="562.50" stroke="#f0141a" stroke-width="1" />
<line x1="333.50" y1="581.50" x2="339.50" y2="581.50" stroke="#f0141a" stroke-width="1" />
<line x1="330.30" y1="571.80" x2="342.70" y2="571.80" stroke="#f0141a" stroke-width="1.1" />
<circle cx="355.30" cy="550.80" r="2.7" fill="#22b325"/>
<circle cx="355.30" cy="558.50" r="2.7" fill="#22b325"/>
<circle cx="355.30" cy="568.50" r="2.7" fill="#22b325"/>
<circle cx="353.50" cy="573.00" r="2.7" fill="#22b325"/>
<circle cx="357.00" cy="579.70" r="2.7" fill="#22b325"/>
<circle cx="351.50" cy="589.20" r="2.7" fill="#22b325"/>
<circle cx="353.60" cy="591.20" r="2.7" fill="#22b325"/>
<circle cx="356.50" cy="593.50" r="2.7" fill="#22b325"/>
<circle cx="358.80" cy="595.20" r="2.7" fill="#22b325"/>
<line x1="355.50" y1="551.50" x2="355.50" y2="596.50" stroke="#22b325" stroke-width="1" />
<line x1="352.50" y1="551.50" x2="358.50" y2="551.50" stroke="#22b325" stroke-width="1" />
<line x1="352.50" y1="596.50" x2="358.50" y2="596.50" stroke="#22b325" stroke-width="1" />
<line x1="349.10" y1="576.20" x2="361.50" y2="576.20" stroke="#0a5a0a" stroke-width="1.1" />
<line x1="367.90" y1="568.50" x2="380.30" y2="568.50" stroke="#112" stroke-width="1.1" />
<rect x="371.70" y="549.80" width="5.0" height="5.0" fill="#f68b1f"/>
<rect x="373.30" y="554.10" width="5.0" height="5.0" fill="#f68b1f"/>
<rect x="370.20" y="557.30" width="5.0" height="5.0" fill="#f68b1f"/>
<rect x="368.70" y="567.50" width="5.0" height="5.0" fill="#f68b1f"/>
<rect x="371.70" y="566.70" width="5.0" height="5.0" fill="#f68b1f"/>
<rect x="374.10" y="568.50" width="5.0" height="5.0" fill="#f68b1f"/>
<rect x="371.70" y="572.10" width="5.0" height="5.0" fill="#f68b1f"/>
<rect x="375.50" y="574.10" width="5.0" height="5.0" fill="#f68b1f"/>
<rect x="371.70" y="576.70" width="5.0" height="5.0" fill="#f68b1f"/>
<rect x="371.70" y="584.50" width="5.0" height="5.0" fill="#f68b1f"/>
<line x1="374.50" y1="557.50" x2="374.50" y2="579.50" stroke="#f68b1f" stroke-width="1" />
<line x1="371.50" y1="557.50" x2="377.50" y2="557.50" stroke="#f68b1f" stroke-width="1" />
<line x1="371.50" y1="579.50" x2="377.50" y2="579.50" stroke="#f68b1f" stroke-width="1" />
<polygon fill="#999999" points="390.70,573.74 396.30,573.74 393.50,568.70"/>
<polygon fill="#999999" points="389.20,576.84 394.80,576.84 392.00,571.80"/>
<polygon fill="#999999" points="392.70,576.04 398.30,576.04 395.50,571.00"/>
<polygon fill="#999999" points="387.60,579.94 393.20,579.94 390.40,574.90"/>
<polygon fill="#999999" points="393.70,579.94 399.30,579.94 396.50,574.90"/>
<polygon fill="#999999" points="391.40,584.54 397.00,584.54 394.20,579.50"/>
<polygon fill="#999999" points="389.90,586.84 395.50,586.84 392.70,581.80"/>
<polygon fill="#999999" points="389.20,590.74 394.80,590.74 392.00,585.70"/>
<polygon fill="#999999" points="391.40,593.24 397.00,593.24 394.20,588.20"/>
<line x1="393.50" y1="573.50" x2="393.50" y2="585.50" stroke="#999999" stroke-width="1" />
<line x1="390.50" y1="573.50" x2="396.50" y2="573.50" stroke="#999999" stroke-width="1" />
<line x1="390.50" y1="585.50" x2="396.50" y2="585.50" stroke="#999999" stroke-width="1" />
<line x1="387.10" y1="579.70" x2="399.50" y2="579.70" stroke="#111" stroke-width="1.1" />
<text x="336.50" y="555.00" font-size="6.8" text-anchor="middle" fill="#000" letter-spacing="0.8">***</text>
<text x="355.30" y="549.90" font-size="6.8" text-anchor="middle" fill="#000" letter-spacing="0.8">***</text>
<text x="374.10" y="549.90" font-size="6.8" text-anchor="middle" fill="#000" letter-spacing="0.8">***</text>
<text x="393.30" y="567.70" font-size="6.8" text-anchor="middle" fill="#000" letter-spacing="0.8">***</text>
<line x1="248.50" y1="542.55" x2="248.50" y2="648.00" stroke="#111" stroke-width="1" />
<line x1="243.90" y1="647.50" x2="248.50" y2="647.50" stroke="#111" stroke-width="1" />
<text x="240.20" y="650.30" font-size="8.15" text-anchor="end" fill="#111" >1</text>
<line x1="243.90" y1="612.50" x2="248.50" y2="612.50" stroke="#111" stroke-width="1" />
<text x="240.20" y="615.55" font-size="8.15" text-anchor="end" fill="#111" >2</text>
<line x1="243.90" y1="577.50" x2="248.50" y2="577.50" stroke="#111" stroke-width="1" />
<text x="240.20" y="580.80" font-size="8.15" text-anchor="end" fill="#111" >3</text>
<line x1="243.90" y1="543.50" x2="248.50" y2="543.50" stroke="#111" stroke-width="1" />
<text x="240.20" y="546.05" font-size="8.15" text-anchor="end" fill="#111" >4</text>
<line x1="248.00" y1="647.50" x2="406.50" y2="647.50" stroke="#111" stroke-width="1" />
<line x1="261.50" y1="647.50" x2="261.50" y2="651.70" stroke="#111" stroke-width="1" />
<line x1="280.50" y1="647.50" x2="280.50" y2="651.70" stroke="#111" stroke-width="1" />
<line x1="299.50" y1="647.50" x2="299.50" y2="651.70" stroke="#111" stroke-width="1" />
<line x1="317.50" y1="647.50" x2="317.50" y2="651.70" stroke="#111" stroke-width="1" />
<line x1="336.50" y1="647.50" x2="336.50" y2="651.70" stroke="#111" stroke-width="1" />
<line x1="355.50" y1="647.50" x2="355.50" y2="651.70" stroke="#111" stroke-width="1" />
<line x1="374.50" y1="647.50" x2="374.50" y2="651.70" stroke="#111" stroke-width="1" />
<line x1="393.50" y1="647.50" x2="393.50" y2="651.70" stroke="#111" stroke-width="1" />
<text transform="translate(230.00,595.00) rotate(-90)" font-size="8.1" text-anchor="middle" fill="#111">Serum Pi (mmol/L)</text>
<polygon fill="#000" points="270,660.2 320,655.9 320,660.2"/>
<text x="296.20" y="669.70" font-size="8.4" text-anchor="middle" fill="#111" >RLY-4008</text>
<text transform="translate(263.40,657.10) rotate(-61.5)" font-size="8.1" text-anchor="end" fill="#111">Vehicle</text>
<text transform="translate(338.50,657.10) rotate(-61.5)" font-size="8.1" text-anchor="end" fill="#111">Futibatinib</text>
<text transform="translate(357.30,657.10) rotate(-61.5)" font-size="8.1" text-anchor="end" fill="#111">Pemigatinib</text>
<text transform="translate(376.10,657.10) rotate(-61.5)" font-size="8.1" text-anchor="end" fill="#111">Erdafitinib</text>
<text transform="translate(395.30,657.10) rotate(-61.5)" font-size="8.1" text-anchor="end" fill="#111">Infigratinib</text>
<line x1="20.80" y1="686.80" x2="31.80" y2="686.80" stroke="#5ba7f0" stroke-width="1.3" />
<circle cx="26.30" cy="686.80" r="2.6" fill="#5ba7f0"/>
<text x="35.50" y="689.70" font-size="8.1" text-anchor="start" fill="#111" >RLY-4008 (2 mg/kg q.d.)</text>
<line x1="20.80" y1="701.30" x2="31.80" y2="701.30" stroke="#1010e8" stroke-width="1.3" />
<circle cx="26.30" cy="701.30" r="2.6" fill="#1010e8"/>
<text x="35.50" y="704.20" font-size="8.1" text-anchor="start" fill="#111" >RLY-4008 (10 mg/kg q.d.)</text>
<line x1="20.80" y1="715.70" x2="31.80" y2="715.70" stroke="#a41fe0" stroke-width="1.3" />
<circle cx="26.30" cy="715.70" r="2.6" fill="#a41fe0"/>
<text x="35.50" y="718.60" font-size="8.1" text-anchor="start" fill="#111" >RLY-4008 (30 mg/kg q.d.)</text>
<line x1="20.80" y1="730.60" x2="31.80" y2="730.60" stroke="#f0141a" stroke-width="1.3" />
<circle cx="26.30" cy="730.60" r="2.6" fill="#f0141a"/>
<text x="35.50" y="733.50" font-size="8.1" text-anchor="start" fill="#111" >Futibatinib (6 mg/kg q.d.)</text>
<line x1="133.40" y1="686.80" x2="144.60" y2="686.80" stroke="#22b325" stroke-width="1.3" />
<circle cx="138.90" cy="686.80" r="2.6" fill="#22b325"/>
<text x="148.70" y="689.70" font-size="8.1" text-anchor="start" fill="#111" >Pemigatinib (1 mg/kg q.d.)</text>
<line x1="133.40" y1="701.30" x2="144.60" y2="701.30" stroke="#f68b1f" stroke-width="1.3" />
<circle cx="138.90" cy="701.30" r="2.6" fill="#f68b1f"/>
<text x="148.70" y="704.20" font-size="8.1" text-anchor="start" fill="#111" >Erdafitinib (30 mg/kg q.d.)</text>
<line x1="133.40" y1="715.70" x2="144.60" y2="715.70" stroke="#999999" stroke-width="1.3" />
<circle cx="138.90" cy="715.70" r="2.6" fill="#999999"/>
<text x="148.70" y="718.60" font-size="8.1" text-anchor="start" fill="#111" >Infigratinib (30 mg/kg q.d.)</text>
<line x1="133.40" y1="730.60" x2="144.60" y2="730.60" stroke="#000000" stroke-width="1.3" />
<circle cx="138.90" cy="730.60" r="2.6" fill="#000000"/>
<text x="148.70" y="733.50" font-size="8.1" text-anchor="start" fill="#111" >Vehicle</text>
</svg>
</body></html>
